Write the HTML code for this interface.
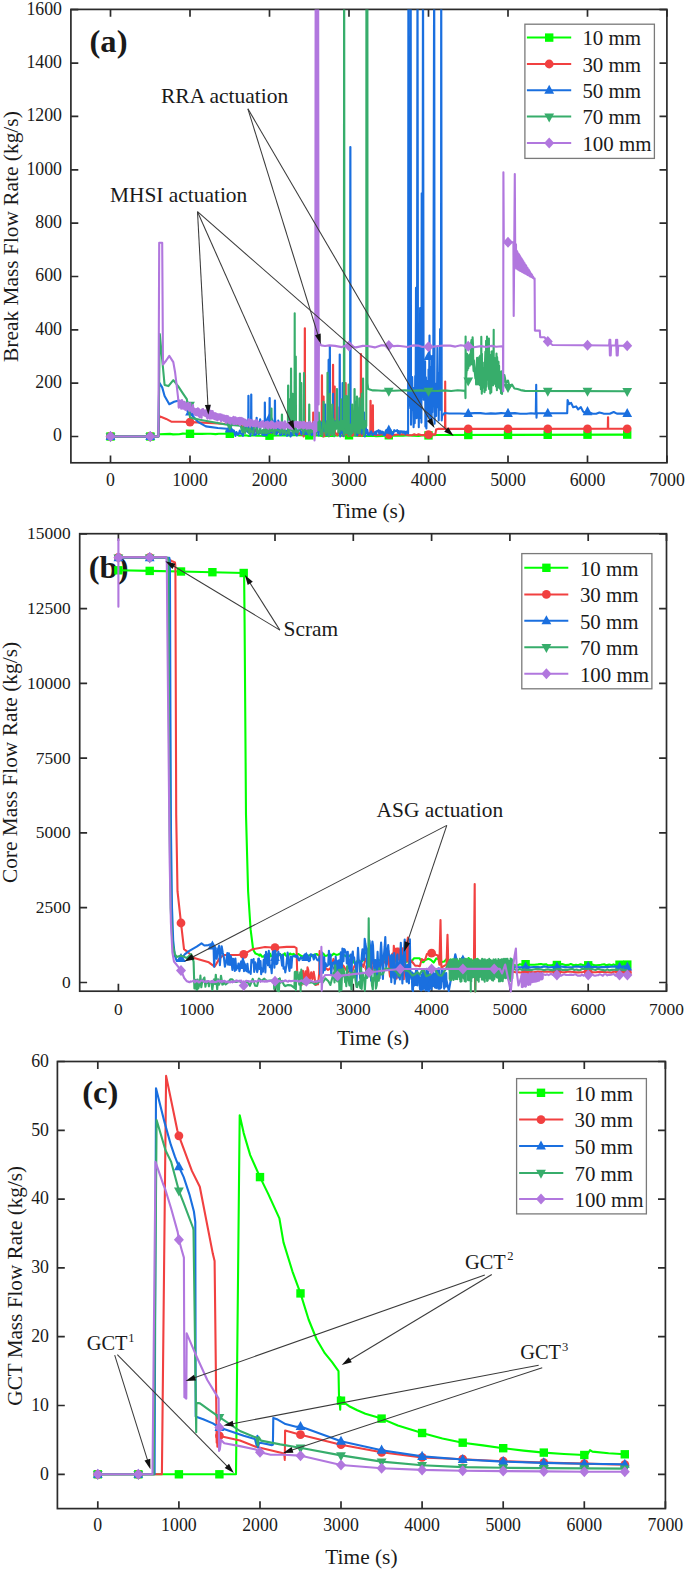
<!DOCTYPE html>
<html><head><meta charset="utf-8"><title>Mass flow rate figure</title>
<style>
html,body{margin:0;padding:0;background:#fff;}
svg{display:block;}
text{font-family:'Liberation Serif','Times New Roman',serif;fill:#1a1a1a;}
</style></head><body>
<svg width="685" height="1571" viewBox="0 0 685 1571">
<rect width="685" height="1571" fill="#fff"/>

<rect x="70.9" y="9.4" width="596" height="453.4" fill="none" stroke="#2b2b2b" stroke-width="1.7"/>
<path d="M110.5 462.8v-7.4M110.5 9.4v7.4M190 462.8v-7.4M190 9.4v7.4M269.5 462.8v-7.4M269.5 9.4v7.4M349 462.8v-7.4M349 9.4v7.4M428.5 462.8v-7.4M428.5 9.4v7.4M508 462.8v-7.4M508 9.4v7.4M587.5 462.8v-7.4M587.5 9.4v7.4M667 462.8v-7.4M667 9.4v7.4M70.9 436.5h7.4M666.9 436.5h-7.4M70.9 383.1h7.4M666.9 383.1h-7.4M70.9 329.8h7.4M666.9 329.8h-7.4M70.9 276.5h7.4M666.9 276.5h-7.4M70.9 223.1h7.4M666.9 223.1h-7.4M70.9 169.8h7.4M666.9 169.8h-7.4M70.9 116.4h7.4M666.9 116.4h-7.4M70.9 63.1h7.4M666.9 63.1h-7.4M70.9 9.7h7.4M666.9 9.7h-7.4" stroke="#2b2b2b" stroke-width="1.7" fill="none"/>
<text x="110.5" y="485.7" font-size="17.8" text-anchor="middle">0</text>
<text x="190" y="485.7" font-size="17.8" text-anchor="middle">1000</text>
<text x="269.5" y="485.7" font-size="17.8" text-anchor="middle">2000</text>
<text x="349" y="485.7" font-size="17.8" text-anchor="middle">3000</text>
<text x="428.5" y="485.7" font-size="17.8" text-anchor="middle">4000</text>
<text x="508" y="485.7" font-size="17.8" text-anchor="middle">5000</text>
<text x="587.5" y="485.7" font-size="17.8" text-anchor="middle">6000</text>
<text x="667" y="485.7" font-size="17.8" text-anchor="middle">7000</text>
<text x="62" y="441.4" font-size="17.8" text-anchor="end">0</text>
<text x="62" y="388" font-size="17.8" text-anchor="end">200</text>
<text x="62" y="334.7" font-size="17.8" text-anchor="end">400</text>
<text x="62" y="281.4" font-size="17.8" text-anchor="end">600</text>
<text x="62" y="228" font-size="17.8" text-anchor="end">800</text>
<text x="62" y="174.7" font-size="17.8" text-anchor="end">1000</text>
<text x="62" y="121.3" font-size="17.8" text-anchor="end">1200</text>
<text x="62" y="68" font-size="17.8" text-anchor="end">1400</text>
<text x="62" y="14.6" font-size="17.8" text-anchor="end">1600</text>
<text x="368.9" y="518" font-size="21.4" text-anchor="middle">Time (s)</text>
<text x="17.6" y="236.6" font-size="21.4" text-anchor="middle" transform="rotate(-90 17.6 236.6)">Break Mass Flow Rate (kg/s)</text>
<text x="89.5" y="51.5" font-size="32.6" text-anchor="start" font-weight="bold">(a)</text>
<rect x="79.7" y="533.7" width="586.8" height="457.5" fill="none" stroke="#2b2b2b" stroke-width="1.7"/>
<path d="M118.4 991.2v-7.4M118.4 533.7v7.4M196.7 991.2v-7.4M196.7 533.7v7.4M275 991.2v-7.4M275 533.7v7.4M353.3 991.2v-7.4M353.3 533.7v7.4M431.6 991.2v-7.4M431.6 533.7v7.4M509.9 991.2v-7.4M509.9 533.7v7.4M588.2 991.2v-7.4M588.2 533.7v7.4M666.5 991.2v-7.4M666.5 533.7v7.4M79.7 982.5h7.4M666.5 982.5h-7.4M79.7 907.7h7.4M666.5 907.7h-7.4M79.7 832.9h7.4M666.5 832.9h-7.4M79.7 758.2h7.4M666.5 758.2h-7.4M79.7 683.4h7.4M666.5 683.4h-7.4M79.7 608.6h7.4M666.5 608.6h-7.4M79.7 533.8h7.4M666.5 533.8h-7.4" stroke="#2b2b2b" stroke-width="1.7" fill="none"/>
<text x="118.4" y="1014.8" font-size="17.4" text-anchor="middle">0</text>
<text x="196.7" y="1014.8" font-size="17.4" text-anchor="middle">1000</text>
<text x="275" y="1014.8" font-size="17.4" text-anchor="middle">2000</text>
<text x="353.3" y="1014.8" font-size="17.4" text-anchor="middle">3000</text>
<text x="431.6" y="1014.8" font-size="17.4" text-anchor="middle">4000</text>
<text x="509.9" y="1014.8" font-size="17.4" text-anchor="middle">5000</text>
<text x="588.2" y="1014.8" font-size="17.4" text-anchor="middle">6000</text>
<text x="666.5" y="1014.8" font-size="17.4" text-anchor="middle">7000</text>
<text x="70.6" y="987.8" font-size="17.4" text-anchor="end">0</text>
<text x="70.6" y="913" font-size="17.4" text-anchor="end">2500</text>
<text x="70.6" y="838.2" font-size="17.4" text-anchor="end">5000</text>
<text x="70.6" y="763.5" font-size="17.4" text-anchor="end">7500</text>
<text x="70.6" y="688.7" font-size="17.4" text-anchor="end">10000</text>
<text x="70.6" y="613.9" font-size="17.4" text-anchor="end">12500</text>
<text x="70.6" y="539.1" font-size="17.4" text-anchor="end">15000</text>
<text x="373.1" y="1044.9" font-size="21.4" text-anchor="middle">Time (s)</text>
<text x="17.4" y="762.5" font-size="21.4" text-anchor="middle" transform="rotate(-90 17.4 762.5)">Core Mass Flow Rate (kg/s)</text>
<text x="88.7" y="577.9" font-size="32.6" text-anchor="start" font-weight="bold">(b)</text>
<rect x="57.4" y="1061.5" width="608" height="447.1" fill="none" stroke="#2b2b2b" stroke-width="1.7"/>
<path d="M97.8 1508.6v-7.4M97.8 1061.5v7.4M178.9 1508.6v-7.4M178.9 1061.5v7.4M260 1508.6v-7.4M260 1061.5v7.4M341 1508.6v-7.4M341 1061.5v7.4M422.1 1508.6v-7.4M422.1 1061.5v7.4M503.2 1508.6v-7.4M503.2 1061.5v7.4M584.3 1508.6v-7.4M584.3 1061.5v7.4M665.4 1508.6v-7.4M665.4 1061.5v7.4M57.4 1474.3h7.4M665.4 1474.3h-7.4M57.4 1405.5h7.4M665.4 1405.5h-7.4M57.4 1336.7h7.4M665.4 1336.7h-7.4M57.4 1267.9h7.4M665.4 1267.9h-7.4M57.4 1199.1h7.4M665.4 1199.1h-7.4M57.4 1130.3h7.4M665.4 1130.3h-7.4M57.4 1061.5h7.4M665.4 1061.5h-7.4" stroke="#2b2b2b" stroke-width="1.7" fill="none"/>
<text x="97.8" y="1531.3" font-size="17.8" text-anchor="middle">0</text>
<text x="178.9" y="1531.3" font-size="17.8" text-anchor="middle">1000</text>
<text x="260" y="1531.3" font-size="17.8" text-anchor="middle">2000</text>
<text x="341" y="1531.3" font-size="17.8" text-anchor="middle">3000</text>
<text x="422.1" y="1531.3" font-size="17.8" text-anchor="middle">4000</text>
<text x="503.2" y="1531.3" font-size="17.8" text-anchor="middle">5000</text>
<text x="584.3" y="1531.3" font-size="17.8" text-anchor="middle">6000</text>
<text x="665.4" y="1531.3" font-size="17.8" text-anchor="middle">7000</text>
<text x="49" y="1479.6" font-size="17.8" text-anchor="end">0</text>
<text x="49" y="1410.8" font-size="17.8" text-anchor="end">10</text>
<text x="49" y="1342" font-size="17.8" text-anchor="end">20</text>
<text x="49" y="1273.2" font-size="17.8" text-anchor="end">30</text>
<text x="49" y="1204.4" font-size="17.8" text-anchor="end">40</text>
<text x="49" y="1135.6" font-size="17.8" text-anchor="end">50</text>
<text x="49" y="1066.8" font-size="17.8" text-anchor="end">60</text>
<text x="361.4" y="1564.3" font-size="21.4" text-anchor="middle">Time (s)</text>
<text x="21.8" y="1285.8" font-size="21.2" text-anchor="middle" transform="rotate(-90 21.8 1285.8)">GCT Mass Flow Rate (kg/s)</text>
<text x="82.2" y="1102.9" font-size="32.6" text-anchor="start" font-weight="bold">(c)</text>
<defs><clipPath id="clipA"><rect x="70.9" y="9.4" width="596" height="453.4"/></clipPath></defs>
<g clip-path="url(#clipA)">
<polyline points="110.5,436.5 150.2,436.5 158.4,436.5 158.7,433.8 159.8,434.2 164.7,434.1 169.9,433.9 173,434.4 179.1,434.2 182.8,433.6 187.5,433.7 192.2,433.9 195.6,433.9 201.8,433.9 207.5,433.8 210.6,433.8 215.7,434.1 218.7,433.7 223.3,433.8 229.5,433.8 235.9,434 239.3,435.8 245.7,435.3 249,436.1 252.6,435.2 257.2,435.6 261.2,435.7 265.5,435.9 270.6,435.6 276.9,435.5 283.3,435.3 290,435.5 293.5,435.3 300,435.3 305,435.5 308.7,435.3 313.8,435.9 316.9,435.3 323.5,436.1 329.4,435.8 332.9,435.9 338.6,435.3 341.7,435.6 344.7,435.5 348.8,435.3 355.4,435.7 362.1,435.9 365.3,435.6 368.3,436 372.7,435.6 376.1,436.2 382.3,435.9 388.8,435.3 393.1,435.7 398,435.5 403.1,435.6 408.3,435.2 413.1,435.8 418.7,436 422.8,435.2 427.6,435.6 428.5,435.4 436.4,435 627.2,434.6" fill="none" stroke="#00FF00" stroke-width="2.1" stroke-linejoin="round"/>
<rect x="106.3" y="432.3" width="8.4" height="8.4" fill="#00FF00"/>
<rect x="146.1" y="432.3" width="8.4" height="8.4" fill="#00FF00"/>
<rect x="185.8" y="429.6" width="8.4" height="8.4" fill="#00FF00"/>
<rect x="225.6" y="429.6" width="8.4" height="8.4" fill="#00FF00"/>
<rect x="265.3" y="431.5" width="8.4" height="8.4" fill="#00FF00"/>
<rect x="305.1" y="431.2" width="8.4" height="8.4" fill="#00FF00"/>
<rect x="344.8" y="431.1" width="8.4" height="8.4" fill="#00FF00"/>
<rect x="384.6" y="431.1" width="8.4" height="8.4" fill="#00FF00"/>
<rect x="424.3" y="431.2" width="8.4" height="8.4" fill="#00FF00"/>
<rect x="464.1" y="430.8" width="8.4" height="8.4" fill="#00FF00"/>
<rect x="503.8" y="430.7" width="8.4" height="8.4" fill="#00FF00"/>
<rect x="543.5" y="430.6" width="8.4" height="8.4" fill="#00FF00"/>
<rect x="583.3" y="430.5" width="8.4" height="8.4" fill="#00FF00"/>
<rect x="623" y="430.4" width="8.4" height="8.4" fill="#00FF00"/>
<polyline points="110.5,436.5 150.2,436.5 158.4,436.5 159.2,416.2 161.4,417 166.2,418.9 171.3,421.6 182.1,421.8 189.2,422.1 197.9,422.4 213.9,423.2 229.8,424.2 241.7,425.3 242.5,430.3 244.6,432.5 245.7,426.4 246.8,429.5 248,429.6 250,429.5 251.7,429.5 254.1,433 255.4,429.9 258.1,432.1 260,430.7 261.7,431.8 263.4,431.9 265.6,432.4 267.4,430.5 268.6,431.4 270.9,432.7 272.5,430.8 274.1,433.3 276,431.5 277.3,433 279,431.3 280.9,431.3 282.4,433.3 284.6,431.6 286.5,433.9 287.9,433 289.4,432.3 291.9,434.4 293.6,432.6 295.8,432.8 297.5,434.9 299.2,433.1 300.8,434.5 301.3,433.7 302.6,430.4 303.7,436.5 304.6,432.8 304.8,328.2 304.9,328.2 305.1,432.8 305.6,430.6 307.6,433.6 309.5,430.3 310.7,431.5 312.5,432.1 313,433.4 313.2,412.5 313.3,412.5 313.5,433.4 313.9,434.6 315.2,435 316.1,432.6 317.3,431.1 318.2,430.5 319.9,430.3 321.7,431.4 321.9,375.4 322,375.4 322.2,431.4 323.3,436.4 323.3,436.2 323.5,396.5 323.6,396.5 323.8,436.2 325,435.4 326.2,432.1 327.6,433.7 329.6,432.4 330.8,434.8 332.7,433.3 332.8,433.5 333,364.7 333.1,364.7 333.3,433.5 334.4,434.2 334.5,433.8 334.7,386.6 334.7,386.6 334.9,433.8 335.5,432.9 337.3,435.4 339.1,430.4 339.2,430.5 339.4,407.2 339.5,407.2 339.7,430.5 340.8,431 341.7,432.3 343.6,436.2 344.7,434.7 345.4,434 345.6,383.1 345.7,383.1 345.9,434 346.2,433.7 347.6,431.3 348.4,436.1 349.4,435.7 350.4,430 352.2,435.9 353.5,434.4 353.7,411.2 353.8,411.2 354,434.4 354.9,434.2 356.5,432.6 357.7,435.2 359,435.7 360.5,431.7 360.7,433.2 360.9,354.1 361,354.1 361.2,433.2 361.8,436 362.8,434 364.4,431.3 365.7,431.2 367.2,433.6 368.5,433.2 370.2,433.7 370.3,433.6 370.5,400.8 370.6,400.8 370.8,433.6 371.8,433.4 372.6,434.6 372.8,405.3 372.9,405.3 373.1,434.6 376.5,435.1 379.5,434.7 383.7,434.2 386.5,434.2 390.4,434.9 393.5,435 397.5,434.5 401.7,434.3 405.3,434.4 408.6,435.1 412,435.2 414.3,434.3 416.3,435.1 418.5,434.2 420.8,435.1 424.9,435 428.9,434.4 433,434.2 435.3,434.6 436.1,429.6 438,428.9 445,428.9 445.2,381.5 445.2,381.5 445.4,428.9 607.8,428.8 608,417.3 608.1,417.3 608.2,428.8 627.2,428.8" fill="none" stroke="#F14040" stroke-width="2.1" stroke-linejoin="round"/>
<circle cx="110.5" cy="436.5" r="4.4" fill="#F14040"/>
<circle cx="150.2" cy="436.5" r="4.4" fill="#F14040"/>
<circle cx="190" cy="422.1" r="4.4" fill="#F14040"/>
<circle cx="388.8" cy="434.6" r="4.4" fill="#F14040"/>
<circle cx="428.5" cy="434.7" r="4.4" fill="#F14040"/>
<circle cx="468.2" cy="428.9" r="4.4" fill="#F14040"/>
<circle cx="508" cy="428.8" r="4.4" fill="#F14040"/>
<circle cx="547.8" cy="428.8" r="4.4" fill="#F14040"/>
<circle cx="587.5" cy="428.8" r="4.4" fill="#F14040"/>
<circle cx="627.2" cy="428.8" r="4.4" fill="#F14040"/>
<polyline points="110.5,436.5 150.2,436.5 158.4,436.5 159.2,382.6 162.2,387.4 164.6,396 169.3,404.2 174.1,401.8 179,400.5 183.6,405.8 187.6,411.2 190,413 197.9,421.8 205.9,426.4 217.8,428 229.8,429 231.3,430.1 232,430.4 233.2,430.8 233.9,430.5 235.4,436 236.4,432 237.8,434.6 238.6,434.5 239.8,430.5 240.9,433.6 241.9,433.7 242.9,435.8 244,428.7 245.1,430.5 245.4,430.8 245.6,420.5 245.7,420.5 245.9,430.8 247.2,431.1 248.2,432.4 248.4,395.7 248.5,395.7 248.7,432.4 249.6,429.3 250.4,435.7 251,431.6 251.2,394.6 251.3,394.6 251.5,431.6 251.7,429.2 252.8,433 253.4,434.1 253.6,421.8 253.6,421.8 253.8,434.1 254.2,435 255.1,434.9 256.2,434 256.4,432.7 256.6,417.8 256.7,417.8 256.9,432.7 257.1,431 258.6,434.1 259.9,433 260.1,419.2 260.2,419.2 260.4,433 261.4,431.8 262.3,434.8 263,432.7 264,435.1 264.7,434 264.8,402.6 264.9,402.6 265.1,434 266.3,435.4 267.9,432.7 268.5,432.7 268.7,423.2 268.7,423.2 268.9,432.7 269.1,432.8 269.4,431.6 269.6,398.1 269.7,398.1 269.9,431.6 270.5,429.9 271.6,432.6 272.9,429.6 274,430.6 274.7,432 274.9,400.5 275,400.5 275.2,432 275.5,432.8 276.4,434.6 277.7,431.1 278,430.6 278.2,420.5 278.3,420.5 278.5,430.6 279.2,429.7 280.1,435 281,435 282,429.8 282.2,421.8 282.3,421.8 282.5,429.8 283.7,434.5 285.2,434 286.2,430.7 287,435.8 288.4,434.2 289.1,431.9 289.3,420.5 289.4,420.5 289.6,431.9 290.6,436.4 291.6,433 292.7,434.8 293.9,428.9 294.9,432.1 295.7,434.3 296.9,435.6 298.4,429.2 299.1,429 300.1,430.3 301.5,434.1 302.8,431.3 304.1,434.4 305.5,428.8 306.8,432.2 307.5,432.5 308.5,430.8 309.8,432 310.6,431.3 311.8,435.1 313.3,431.3 314.1,429 314.9,433.8 316.2,431.7 317.2,426.1 318,431.5 318.6,435.4 319.5,424.4 320.3,424.7 321,432.2 321.7,422.5 322.2,428.4 322.9,424.2 323.6,431.2 324.3,427.8 324.9,430.4 325.1,404.5 325.2,404.5 325.4,430.4 326.3,434.7 326.9,434.9 327.5,424 328.4,432.2 328.6,359.9 328.7,359.9 328.9,432.2 329,429.8 329.6,424.4 329.8,346.3 329.9,346.3 330.1,424.4 330.9,427 331.5,430.1 332.1,428.1 332.9,431 333.1,393.8 333.1,393.8 333.3,431 333.6,424 334.1,423.6 335.1,421.3 335.8,427.7 336.7,426.4 337.8,425.5 338.5,422.7 339.2,426.9 339.5,432.4 339.7,354.6 339.8,354.6 340,432.4 340.2,436.5 341.1,425.9 341.9,428.1 342.4,433 342.6,383.1 342.7,383.1 342.9,433 343.5,435.9 344.3,426.2 345.1,427.4 346.2,422.2 346.7,423.8 347.2,433.2 347.4,396.5 347.4,396.5 347.6,433.2 348.3,432.8 348.8,427.9 349.9,431.3 350.1,428.7 350.3,147.1 350.4,147.1 350.6,428.7 350.9,425.4 351.5,422.8 352.3,421.7 353.3,424.7 354,423.6 355,422.7 355.1,423.4 355.3,401.8 355.4,401.8 355.6,423.4 355.8,424.4 356.6,434.8 357.1,435.3 357.7,433.9 358.5,425.3 359.1,429.8 359.3,407.2 359.4,407.2 359.6,429.8 360.2,431.6 361,424.4 361.7,433.6 362.8,425 363.5,430.6 363.9,427.7 364.1,412.5 364.1,412.5 364.3,427.7 364.9,436.5 365.5,424 366.1,429.1 366.7,433.2 367.3,430 368.1,435 368.7,434.3 369.7,434.8 370.3,432.8 371.2,431.4 371.8,433 372.6,435 374,434 374.6,432.6 375.3,431.8 376.1,434.5 376.7,431.3 377.5,431 378.5,430.2 379.3,433.8 380,430.8 381.1,433.3 381.7,431.5 383,432 383.6,435 384.3,434.3 384.9,434.9 385.9,430.4 386.7,430 387.6,430.9 388.9,430.2 389.5,433.5 390.5,430.1 391.1,433.6 392.4,434.6 393.2,433.4 394.3,430.2 395,431.2 396.2,430.7 397.2,430.2 398,433 398.7,431 399.7,433.7 400.4,431.3 401.4,431.4 402.3,432.6 403,431.4 403.6,432.7 404.7,431.6 405.4,433.9 406.6,431.7 408.1,433.3 408.4,-70.3 408.9,405.4 409.3,393 409.7,398 410.1,391.2 410.4,408.2 410.7,-70.3 411,424.7 411.5,395.9 411.9,397.6 412.2,377.1 412.7,409.7 413.2,387.9 413.6,427.2 414.1,395.4 414.7,423.2 415.2,376 415.6,402.2 416,287.9 416.6,418.3 417,391.7 417.5,-70.3 418,402.7 418.4,377 418.8,427.3 419.2,393.5 419.7,405.3 420.1,308.1 420.5,418.1 421,379.2 421.4,422.6 421.7,193.4 422.3,396.9 422.7,218.3 423,-70.3 423.6,399.7 424.1,367 424.5,396.6 425.1,361.4 425.4,426.6 425.9,377.3 426.4,428.5 426.9,380.8 427.3,405.1 427.8,392.8 428.2,416.1 428.5,369.6 429,397.3 429.5,335.6 429.9,419.4 430.3,378.1 430.7,401.4 431.1,366.8 431.6,419.9 432,356 432.3,412.1 432.8,394.9 433.2,404.2 433.6,241.2 434.2,-70.3 434.6,423.7 434.9,386 435.2,411.6 435.5,389 436.1,415.9 436.4,383.6 436.9,407.3 437.4,347.5 437.8,404.5 438.3,372.7 438.7,420.5 439.1,378.4 439.6,399.6 440.1,329 440.6,409.7 441,391.9 441.2,-70.3 441.7,420.5 442.2,415.2 443.6,414.4 444.4,413 449.3,413.5 453.6,413.5 459.5,413.5 466,413.7 470.1,413.4 474.5,413.1 480.5,413.1 485.7,413.8 490.8,413.4 495.5,413.6 501.1,413.1 504.3,413.3 508.6,413.4 514.9,413.1 520.2,413.7 526.6,413.7 530.9,413.2 535,413.6 535.8,413.3 536.2,384.8 536.5,417.8 536.8,413.3 567.2,413.3 567.6,400 569,404.2 571.1,402.9 573.2,407.2 576.1,406.4 578.1,409.3 580.9,407.2 583,411.4 585,412.8 587.5,412 592.3,413.6 596.2,413.8 599.4,412.5 603.4,413.6 609.8,413.8 613.7,412 616.9,413.6 627.2,413.6" fill="none" stroke="#1A6FDF" stroke-width="2.1" stroke-linejoin="round"/>
<polygon points="110.5,430.9 105.6,440 115.4,440" fill="#1A6FDF"/>
<polygon points="150.2,430.9 145.3,440 155.2,440" fill="#1A6FDF"/>
<polygon points="190,406.4 185.1,415.5 194.9,415.5" fill="#1A6FDF"/>
<polygon points="229.8,423.4 224.8,432.5 234.7,432.5" fill="#1A6FDF"/>
<polygon points="269.5,412.6 264.6,421.7 274.4,421.7" fill="#1A6FDF"/>
<polygon points="309.2,425.9 304.4,435 314.1,435" fill="#1A6FDF"/>
<polygon points="349,422.8 344.1,431.9 353.9,431.9" fill="#1A6FDF"/>
<polygon points="388.8,424.6 383.9,433.7 393.6,433.7" fill="#1A6FDF"/>
<polygon points="428.5,350.9 423.6,360 433.4,360" fill="#1A6FDF"/>
<polygon points="468.2,407.9 463.4,417 473.1,417" fill="#1A6FDF"/>
<polygon points="508,407.8 503.1,416.9 512.9,416.9" fill="#1A6FDF"/>
<polygon points="547.8,407.7 542.9,416.8 552.6,416.8" fill="#1A6FDF"/>
<polygon points="587.5,406.1 582.6,415.2 592.4,415.2" fill="#1A6FDF"/>
<polygon points="627.2,408 622.4,417.1 632.1,417.1" fill="#1A6FDF"/>
<polyline points="110.5,436.5 150.2,436.5 158.4,436.5 159.8,334.1 164.6,385 168.4,386.1 173.3,380.2 178.1,386.1 183.2,393.8 186.8,399.2 189.2,411.2 190,417.3 193.2,418.4 201.1,420 210.7,421.8 225.8,424.5 240.1,425.8 240.9,426.2 241.8,430.4 242.7,432.4 243.6,426.1 244.4,431.7 245.2,432.8 246.4,427.9 247.8,428.8 249.2,433.5 250.1,426.4 250.8,431.6 251.9,431.6 253.1,433.3 253.9,426.6 254.7,427 255.6,426.4 256.8,429 257.6,433.3 259,432.5 259.8,427.8 261.3,433.4 262.8,430 263.8,433.1 264.8,426.8 265.7,433 266.5,433 267.5,427.4 268.2,432.6 269.7,426.9 271.2,431.3 271.4,408.5 271.5,408.5 271.7,431.3 272.3,427.3 273.4,429.1 274.3,434 275.3,428.8 276.7,430.1 277.7,430.4 278.8,430.4 280.2,432.8 281.4,427.7 281.7,429.9 281.9,414.6 282,414.6 282.2,429.9 282.8,433.1 284.4,428.5 285.2,432.5 286,434 287.6,431.6 287.9,432.5 288.1,385.6 288.2,385.6 288.4,432.5 289,433.7 289.1,430.8 289.3,399.2 289.4,399.2 289.6,430.8 289.7,428.4 290.8,427.6 291,368.5 291.1,368.5 291.3,427.6 292.3,431.4 292.5,393.8 292.6,393.8 292.8,431.4 293.7,434 294.5,431.8 294.7,313.3 294.7,313.3 294.9,431.8 295.5,430.6 295.7,356.5 295.8,356.5 296,430.6 296.6,431.2 297.6,432.5 298.6,430.6 299.7,428.6 299.9,373.5 300,373.5 300.2,428.6 301.1,428.9 301.3,383.1 301.3,383.1 301.5,428.9 301.6,429.1 302.5,428.1 303.4,434 303.8,431.7 304,373 304,373 304.2,431.7 304.5,429.9 305.5,430.5 306.4,428.3 307.5,431.7 308.6,429 309,430 309.2,404.5 309.3,404.5 309.5,430 310.1,431.4 311.2,430.9 311.9,432.2 313.4,429.9 314.1,429.4 315.1,428.5 316.1,433.7 317.2,421.2 317.7,421.5 318.4,430.2 318.6,428 318.8,412.5 318.8,412.5 319,428 319.4,430 320,421.3 320.6,434 321,430.1 321.6,434.1 322,430.9 322.4,436 323,420.5 323.3,423.6 323.5,401.8 323.6,401.8 323.8,423.6 324.3,422 325,428.8 325.7,434.4 326.4,429.9 326.9,421.1 327.3,431.9 327.5,372.7 327.6,372.7 327.8,431.9 328.1,426.1 328.5,436 329,436.4 329.7,433.3 329.7,431.4 329.9,393.8 330,393.8 330.2,431.4 330.7,429 331.3,425.1 331.8,434.8 332.1,428.4 332.3,404.5 332.3,404.5 332.5,428.4 332.6,424.5 333,428.8 333.6,419.3 334,436.3 334.6,429.2 335.3,422.2 335.8,429.2 336.4,421.2 336.7,428.1 336.9,389 337,389 337.2,428.1 337.5,420.3 338.1,426.5 338.4,432.5 339,421.6 339.6,431.6 340.3,425 340.8,429 341,399.2 341.1,399.2 341.3,429 341.4,420.9 341.8,427.3 342.4,430.3 343,420.7 343.8,423.7 343.9,434.6 344.1,-70.3 344.2,-70.3 344.4,434.6 344.7,431.1 345.1,421.4 345.6,422.2 346,432.9 346.2,396 346.3,396 346.5,432.9 347.1,429.6 347.5,433.3 347.8,427.9 348.3,425.4 348.5,384.5 348.6,384.5 348.8,425.4 349,435.5 349.6,429.8 350,432.2 350.4,424.5 350.9,434.6 351.3,428.8 351.9,432.2 351.9,432.5 352.1,404.5 352.2,404.5 352.4,432.5 352.6,432.8 353.2,425.9 353.6,423.5 354.1,427.1 354.3,426 354.5,389 354.6,389 354.8,426 355.2,435.5 355.9,421.6 356.5,426.5 356.7,421.1 356.9,396.5 357,396.5 357.2,421.1 357.6,432.7 358.3,419.4 358.8,419.2 359.1,433.3 359.3,398.4 359.4,398.4 359.6,433.3 360,430.6 360.6,426.4 361,427.3 361.5,428.2 361.7,393.8 361.8,393.8 362,428.2 362.3,421.5 362.8,428 362.8,425.6 363,378.6 363.1,378.6 363.3,425.6 363.4,422.2 363.8,434.9 364.5,426.9 365,421 365.7,427.1 366.3,425.8 366.4,-70.3 367.4,-70.3 367.5,383.1 368.2,389 372.9,390.4 374.4,390.3 382.1,390.8 385.9,390.4 393.5,390.8 399.7,390.5 404.8,390.4 411.5,390.7 415.9,390.6 421.3,390.4 426,390.7 430.8,390.7 437.6,391 441.7,390.6 446.5,390.6 451.2,391 457.7,390.2 465.2,390.9 465.5,398.1 465.6,336.5 465.9,380.7 466.7,369.8 467.1,353.9 467.4,370.1 467.7,361.2 468.3,368.3 468.8,355.3 469.2,363 469.7,365.8 470.2,354.1 470.5,364.5 471,344 471.5,340 471.8,347.1 472.2,364.4 472.6,337.4 473,345 473.3,366.2 473.6,370.9 473.9,360.3 474.4,371 474.9,373.3 475.4,378.3 475.8,368.6 476.1,384.5 476.4,367 476.7,363.6 477.1,357.9 477.6,364.5 478,384.5 478.4,363.9 478.9,379.9 479.2,357 479.7,366 479.9,385.2 480.2,355.5 480.4,384.6 480.5,358 480.8,385.9 480.9,389.1 481.1,371.4 481.3,336.8 481.5,378.7 481.8,393.7 481.9,353.8 482.1,391.9 482.3,375 482.6,388 482.8,371.5 483.1,368.3 483.3,375.1 483.4,367.9 483.7,374 483.8,370 484,375.7 484.2,362.5 484.4,377.2 484.5,392.3 484.7,382.6 484.9,378.6 485.1,359.3 485.4,351.6 485.6,369.4 485.7,390.2 486,365.1 486.1,340.7 486.3,358.1 486.5,386.6 486.8,384.2 487,336.5 487.1,365.2 487.3,379.6 487.6,370.1 487.7,366.7 487.8,353.2 488.1,341.9 488.2,355.1 488.4,366.7 488.5,376.3 488.7,357.9 488.8,338.5 488.9,338.5 489.1,389 489.3,363.4 489.6,364.7 489.8,389.1 490,364.4 490.3,393.5 490.4,355 490.7,369.6 490.9,361.7 491.1,367.1 491.3,392.2 491.5,351.5 491.6,366.7 491.8,373.3 492,351.2 492.3,367.5 492.4,375.8 492.6,381.5 492.8,360.8 492.9,385.1 493.1,385.3 493.3,381.3 493.5,365 493.7,329.8 493.7,372.4 493.8,356.8 494.1,376.5 494.3,381.4 494.5,383.7 494.6,365.2 494.8,359.8 495,358.3 495.2,377.2 495.4,375 495.5,376.9 495.7,362.8 496,386.5 496.3,360.5 496.5,353.5 496.6,362.6 496.9,390.2 497.1,357.1 497.3,361.3 497.5,378.4 497.7,386.9 497.9,379.5 498.1,379 498.4,386.1 498.5,361.8 498.7,381.9 498.9,385.7 499.1,365.9 499.2,388 499.5,388 499.8,385 499.9,388.7 500.1,378.9 500.3,380.8 500.5,371.9 500.7,375 501,393.3 501.2,390 501.3,371.2 501.6,373.4 501.8,392.5 502,393.9 502.2,389.5 502.4,375.6 502.5,376.5 502.7,382.2 502.8,378 503,388.8 504.4,375.1 506,383.1 508,380.5 509.6,387.2 512,384.5 514.4,388.5 517.5,389 520.7,390.1 525,390.9 627.2,391.2" fill="none" stroke="#37AD6B" stroke-width="2.1" stroke-linejoin="round"/>
<polygon points="110.5,442.3 105.6,433.3 115.4,433.3" fill="#37AD6B"/>
<polygon points="150.2,442.3 145.3,433.3 155.2,433.3" fill="#37AD6B"/>
<polygon points="190,410.8 185.1,401.8 194.9,401.8" fill="#37AD6B"/>
<polygon points="229.8,430.7 224.8,421.7 234.7,421.7" fill="#37AD6B"/>
<polygon points="269.5,433.6 264.6,424.6 274.4,424.6" fill="#37AD6B"/>
<polygon points="309.2,437 304.4,428 314.1,428" fill="#37AD6B"/>
<polygon points="349,437 344.1,428 353.9,428" fill="#37AD6B"/>
<polygon points="388.8,396.7 383.9,387.7 393.6,387.7" fill="#37AD6B"/>
<polygon points="428.5,396.7 423.6,387.7 433.4,387.7" fill="#37AD6B"/>
<polygon points="468.2,386.5 463.4,377.5 473.1,377.5" fill="#37AD6B"/>
<polygon points="508,393 503.1,384 512.9,384" fill="#37AD6B"/>
<polygon points="547.8,396.7 542.9,387.7 552.6,387.7" fill="#37AD6B"/>
<polygon points="587.5,396.8 582.6,387.8 592.4,387.8" fill="#37AD6B"/>
<polygon points="627.2,397 622.4,388 632.1,388" fill="#37AD6B"/>
<polyline points="110.5,436.5 150.2,436.5 158.4,436.5 159.2,242.8 162.2,242.8 163,364.5 166.2,360.5 169.3,355.9 173.3,362.1 175,371.7 176.2,381.3 178,397 178.5,402.3 178.6,406.6 178.8,407.6 179.1,404.8 179.2,405 179.4,405.1 179.6,404.4 179.8,405.5 180,401.1 180.1,401.3 180.3,407.2 180.5,400.7 180.7,405 180.9,400.9 181.1,405.3 181.2,408.6 181.4,404.4 181.6,404.7 181.8,402.4 182,400 182.1,401.1 182.3,401.8 182.4,408.4 182.6,401.5 182.9,401.3 183.2,408.8 183.3,408.4 183.6,405.4 183.8,402.3 184.1,403.5 184.4,404.8 184.5,401.7 184.6,409 184.9,407.4 185.1,409.7 185.3,403.6 185.4,405.5 185.6,408.2 185.9,403.5 186.1,403.4 186.3,410.3 186.5,405.6 186.8,408.6 187,409.5 187.2,406.7 187.4,404.7 187.6,404.2 187.8,403.1 188,408.9 188.1,402.9 188.3,407.6 188.5,404.8 188.7,408.2 188.9,404.3 189.1,410.7 189.4,404.8 189.6,407.9 189.8,407.7 190,410.8 190.2,406.4 190.3,403.3 190.6,407.9 190.8,406.7 191,407.8 191.2,408 191.5,410.9 191.7,410.1 192,412.3 192.2,409.1 192.4,411.4 192.6,412.1 192.8,408.2 192.9,411.9 193,405 193.2,408.6 193.4,407.9 193.6,407.9 193.8,410.1 194,413.8 194.2,411.5 194.4,408.8 194.6,410.1 194.8,410.1 195,414.3 195.2,411.7 195.4,412 195.5,414.9 195.7,414.5 195.9,410.2 196.1,409.1 196.3,415.2 196.6,413.8 196.8,414.8 197,413.9 197.2,408.9 197.5,415.1 197.6,410.2 197.8,408.3 198,408.4 198.3,411.4 198.5,414.7 198.7,416.1 198.9,410.1 199,410.6 199.2,409.4 199.4,411.2 199.7,417.1 199.8,414.1 200,411.4 200.3,410.9 200.5,411.3 200.7,413 200.9,410.3 201.1,414.5 201.3,415.7 201.6,417.8 201.8,413.5 202,412.7 202.2,409.2 202.4,412.6 202.7,410 202.8,410.5 203.1,409.1 203.3,414.6 203.5,412.2 203.6,411.3 203.8,410.7 204,415.5 204.3,412.3 204.5,413.3 204.6,412.5 204.9,415.8 205.1,410.4 205.4,416 205.5,411.9 205.8,412.7 205.9,412.1 206.1,415.3 206.3,414.6 206.6,411.9 206.8,417.8 207,410.2 207.3,413.6 207.5,418.6 207.8,413.3 208,416.2 208.2,417.9 208.4,416.7 208.7,411.8 208.9,412.3 209,414.4 209.1,406.1 209.2,411.4 209.4,412.4 209.6,411.8 209.7,414.2 209.9,418.8 210.1,411.3 210.3,416.6 210.5,416.2 210.8,415.9 210.9,410.7 211.1,417.3 211.3,418.5 211.5,411.8 211.7,416.5 212,412.2 212.2,414.1 212.3,416.1 212.6,411.1 212.7,418.2 212.9,412.8 213,418.5 213.3,418.6 213.6,416.1 213.8,412.9 214,413.7 214.2,417.9 214.3,414.4 214.5,417.4 214.7,418.3 214.9,419.2 215.1,413.3 215.3,418.8 215.5,415.2 215.6,413.4 215.8,413.6 216,414 216.1,419.7 216.3,415.6 216.4,419.5 216.7,413.8 216.9,414.2 217.1,414 217.4,416.4 217.5,420.4 217.7,418.8 217.9,419.8 218.1,416.5 218.4,414.2 218.5,414.3 218.8,419 218.9,415.1 219.2,415.2 219.4,416.7 219.5,419.5 219.7,415.7 219.8,414.4 220,414.1 220.1,415.3 220.4,414.4 220.6,416.3 220.7,415.4 220.9,415 221.1,421.2 221.4,419.4 221.5,419.9 221.6,419.8 221.8,414.6 222.1,415.6 222.3,416.7 222.5,420.3 222.6,418.1 222.8,416.7 223,418 223.2,417.7 223.3,420.5 223.5,420.9 223.8,415.3 223.9,415.4 224.2,415.6 224.4,417.1 224.6,421.3 224.8,418.5 225,418 225.2,417 225.5,421.9 225.7,418.3 226,423 226.1,415.8 226.3,417.8 226.5,420.2 226.7,419 227,419.2 227.2,421 227.5,418.8 227.7,416.7 227.8,416.1 228.1,421.4 228.3,422.7 228.4,417.2 228.6,417 228.8,422.7 229,419.8 229.2,421.3 229.4,419.2 229.6,417.7 229.7,419.2 229.9,423.3 230.1,419.8 230.3,420.9 230.6,417.9 230.7,423.7 231,420.7 231.1,422.5 231.3,422.5 231.5,418.8 231.7,419 232,418 232.2,419.3 232.4,419.2 232.6,419.7 232.8,418.5 232.9,418.8 233.2,423.9 233.4,416.8 233.5,418.1 233.7,423.7 233.9,424.2 234.2,422 234.4,417.6 234.6,421.4 234.7,418.7 234.9,423.9 235,418 235.2,422 235.3,420.4 235.5,417.4 235.7,421 236,422.8 236.1,418.3 236.3,418 236.5,421.9 236.7,423.9 237,421.4 237.1,423.4 237.3,418.2 237.4,420.7 237.6,420.9 237.8,421.9 238,418.7 238.3,420.7 238.4,418.1 238.6,423.7 238.8,418.8 239,424.2 239.3,423.9 239.4,417.7 239.7,419.5 239.8,418.8 240,425.1 240.3,418.3 240.4,421.9 240.6,422.8 240.8,419.5 241,417.9 241.3,419 241.5,424 241.7,421.1 241.9,421.2 242.1,424 242.3,422.8 242.5,418.3 242.7,420.6 242.9,424.5 243,419.4 243.2,418.9 243.4,419 243.5,422.4 243.6,424.7 243.8,423.1 244,424.2 244.2,423.5 244.5,425.3 244.7,419.5 244.9,424.1 245.2,425.2 245.3,425.9 245.5,419.7 245.6,424 245.9,425.6 246,421.2 246.1,422.2 246.3,421.7 246.5,422.9 246.7,421.6 246.9,425.9 247.1,423.5 247.3,424.3 247.5,424.5 247.8,423.8 247.9,425.9 248.1,424.9 248.3,423.4 248.5,419.4 248.8,420.9 249,424.2 249.2,424.8 249.3,425.1 249.5,421.1 249.7,423.4 249.9,422.2 250.1,426.7 250.4,423.4 250.6,419.8 250.8,424.3 250.9,423.7 251.1,424.2 251.2,422.7 251.4,421.4 251.6,424.9 251.9,423.8 252,425.1 252.1,424 252.4,420.2 252.6,426.1 252.8,425.8 252.9,422.6 253.1,423.7 253.2,422.4 253.5,424.4 253.7,425.4 253.9,422.7 254,423.6 254.2,426.1 254.4,421.3 254.6,426.1 254.7,423.6 254.9,424.9 255.1,425.9 255.3,423.1 255.4,423.2 255.6,420.3 255.8,426.6 256.1,425.1 256.2,421.1 256.5,421.8 256.7,420.4 256.9,422.7 257.1,421.3 257.4,425.5 257.5,423.7 257.8,425.1 258,421.5 258.2,423.8 258.5,426.4 258.7,426.9 259,423.2 259.1,426.5 259.4,424.4 259.6,427.2 259.8,424.8 260,422.5 260.2,424.7 260.4,424.5 260.5,426.1 260.8,427.1 260.9,421.7 261.1,424.1 261.3,422.7 261.5,422.3 261.6,421.8 261.8,423.4 261.9,422.5 262.1,423.6 262.3,421.9 262.5,426.7 262.8,421.2 262.9,426.8 263.2,421 263.3,422.5 263.6,426.3 263.8,426.1 264.1,424.5 264.3,427.4 264.5,423.1 264.7,428 264.8,426.4 265.1,422.8 265.3,422.8 265.5,425.5 265.8,422.1 266,422.3 266.3,422.8 266.5,425.3 266.7,426.2 266.8,426.5 267,426.5 267.1,427.9 267.3,424.7 267.5,421.6 267.7,426.7 267.8,421.7 268,423.7 268.3,428.6 268.5,426.2 268.7,425.7 269,426.5 269.2,426.9 269.4,425.3 269.5,426.1 269.7,426 270,422.5 270.2,422.8 270.3,422.3 270.6,424.8 270.7,428.1 271,422.3 271.2,425 271.4,427.9 271.6,421.3 271.8,424.2 272,423.9 272.2,427 272.4,421.9 272.7,425.8 272.9,422.7 273.1,423.1 273.3,427.3 273.4,423.4 273.7,428.5 273.8,426.4 273.9,423.3 274.1,424.4 274.3,426.2 274.5,425.5 274.8,423.8 274.9,427.4 275.2,423.2 275.4,425.1 275.6,426.6 275.8,424.7 276,428.1 276.3,426 276.6,423.1 276.7,427.2 277,421.5 277.2,424.4 277.5,423 277.7,422.6 277.9,422.6 278.1,424.5 278.3,427.4 278.5,425.6 278.7,424 279,427.7 279.2,423.5 279.4,422.1 279.6,425.1 279.9,428.2 280,427.5 280.2,426.4 280.5,422.7 280.7,428.5 281,422.9 281.2,422.4 281.4,424.3 281.7,424.8 281.8,426.7 282.1,426.3 282.3,422.3 282.5,422.9 282.7,425.1 282.8,427.4 283,424.8 283.2,428.3 283.4,428.1 283.6,428.7 283.8,427.8 284.1,426.1 284.3,425.6 284.5,422.6 284.6,425 284.9,421.4 285.1,428.5 285.3,421.7 285.5,426.1 285.7,426.9 285.9,427.5 286.2,426.9 286.4,423.7 286.6,425 286.8,426.9 287,424.2 287.3,426.8 287.4,425.1 287.6,425.2 287.9,427.4 288.1,425.4 288.2,425.5 288.4,426.1 288.7,421.5 288.9,427.3 289.1,421.8 289.3,428.2 289.4,421.7 289.6,425.7 289.7,422.3 290,423.8 290.3,424.6 290.4,427.6 290.6,427.8 290.8,428.5 290.9,422.2 291.2,422.8 291.3,425.5 291.5,423 291.7,425.1 291.9,422.6 292.1,428.9 292.3,422.3 292.4,424.2 292.6,426.9 292.8,428.1 293,424.5 293.1,423.3 293.4,426.8 293.6,423.3 293.9,424.5 294.1,423.4 294.3,426.9 294.5,423.6 294.7,422.2 294.9,424.8 295.1,424.4 295.2,423.9 295.4,424.9 295.6,423.7 295.8,421.6 296,422.1 296.2,425.2 296.3,422.5 296.5,426.9 296.6,427.2 296.8,426.8 297,426.2 297.2,422 297.5,426.1 297.7,423.5 298,426 298.1,423.3 298.3,426.3 298.6,428.4 298.8,422.2 299.1,428.1 299.3,423.1 299.4,424.4 299.6,427.3 299.7,426.8 300,424.6 300.2,421.7 300.4,422.6 300.6,424.1 300.8,427.6 301,426.2 301.1,423.9 301.4,427 301.5,425.2 301.7,424 302,422.3 302.2,425.7 302.4,424 302.6,427.7 302.8,423.6 303,426.7 303.2,428.4 303.5,425.6 303.7,422.5 303.8,421.8 304,421.8 304.2,427.3 304.4,427.9 304.7,423.3 304.9,423 305.1,423.2 305.3,426.5 305.5,423.8 305.7,424.8 305.9,423.1 306.1,425.8 306.3,425.5 306.5,428.2 306.6,428.7 306.8,422.7 307,424.2 307.3,422.9 307.5,427.3 307.7,427.3 307.9,428.4 308.1,423.6 308.2,427.9 308.5,427.6 308.7,424.4 309,425 309.2,427.1 309.3,421.9 309.5,428.4 309.8,425 310,422.1 310.2,427.1 310.4,424.1 310.6,427.3 310.7,425.2 310.9,423 311.1,427.9 311.3,424.6 311.4,425.8 311.7,425.6 311.9,427.3 312.2,424 312.4,428.9 312.6,429 312.8,427.7 312.9,426.7 313.1,426.9 313.3,428 313.5,421.9 314,428.5 314.5,440.5 315.2,425.8 315.7,-70.3 316.3,431.2 317,-70.3 317.5,420.5 318.1,-70.3 318.6,404.5 318.9,343.7 320.4,343.9 321.2,345.4 325,346 329.4,345.4 335,345.9 341.8,347.1 345.5,345.7 352.5,346.5 356,347.4 362.9,345.9 367.9,346 374.8,347.4 381.5,345.3 388.7,345.5 394,346.1 397.8,345.7 404.1,346.5 407.7,347 412.8,345.4 418.2,345.6 422.4,346.9 426.8,346.8 433.7,346.6 438.4,346 443.8,345.5 450.2,345.6 455.4,346.6 460.8,345.3 468.3,346.2 473.9,347.3 481,346.1 486.2,347 491.6,345.9 496.2,346.8 501.8,346.3 503,347.1 503.2,391.2 503.4,172.2 503.8,242.3 508,242.3 513.4,242.3 513.7,315.9 514.8,174 515.2,249.8 516,244.4 516,249.8 516.2,268.6 516.4,250.6 516.7,250.9 517,251.4 517.4,252.1 517.6,252.4 517.9,269.5 518.2,269.7 518.5,253.8 518.9,254.4 519.1,254.7 519.4,270.4 519.6,255.6 519.8,270.6 520.1,256.4 520.3,270.9 520.7,257.2 521.1,271.3 521.4,258.4 521.8,259 522.1,271.9 522.5,260 522.6,260.3 522.8,272.3 523.1,261.1 523.4,261.5 523.6,272.7 523.9,272.9 524.3,273.1 524.6,263.4 524.9,273.4 525.1,273.5 525.3,273.6 525.5,264.9 525.9,265.4 526.1,265.7 526.3,266.1 526.6,274.3 526.9,274.5 527.3,267.6 527.5,268 527.7,275 527.9,275.1 528.3,269.2 528.5,269.5 528.7,269.9 529,270.3 529.2,275.8 529.5,271.1 529.7,276.1 529.9,271.8 530.2,276.4 530.5,276.5 530.8,276.7 531.1,273.6 531.2,276.9 531.6,274.4 531.9,274.9 532.2,275.4 532.6,277.7 532.7,277.8 533.1,276.7 533.2,277 533.6,278.2 533.8,278.4 534.2,278.5 534.6,278.6 534.9,330.6 539.8,330.6 540.2,337.3 544.6,337.3 547.8,341.5 552.5,345 609.1,345.5 609.5,339.9 609.9,355.4 610.3,339.9 610.7,355.4 611.1,345.5 615.7,345.5 616.1,339.9 616.7,355.4 617.2,339.9 617.7,355.4 618.2,345.5 627.2,345.8" fill="none" stroke="#B177DE" stroke-width="2.1" stroke-linejoin="round"/>
<polygon points="110.5,431 115.5,436.5 110.5,442 105.5,436.5" fill="#B177DE"/>
<polygon points="150.2,431 155.2,436.5 150.2,442 145.2,436.5" fill="#B177DE"/>
<polygon points="349,340.6 354,346.1 349,351.6 344,346.1" fill="#B177DE"/>
<polygon points="388.8,340 393.8,345.5 388.8,351 383.8,345.5" fill="#B177DE"/>
<polygon points="428.5,341.2 433.5,346.7 428.5,352.2 423.5,346.7" fill="#B177DE"/>
<polygon points="468.2,340.7 473.2,346.2 468.2,351.7 463.2,346.2" fill="#B177DE"/>
<polygon points="508,236.8 513,242.3 508,247.8 503,242.3" fill="#B177DE"/>
<polygon points="547.8,336 552.8,341.5 547.8,347 542.8,341.5" fill="#B177DE"/>
<polygon points="587.5,339.8 592.5,345.3 587.5,350.8 582.5,345.3" fill="#B177DE"/>
<polygon points="627.2,340.3 632.2,345.8 627.2,351.3 622.2,345.8" fill="#B177DE"/>
</g>
<polyline points="118.4,570.3 149.7,570.9 181,571.5 212.4,572.2 244.1,573 244.6,623.5 246,814.8 248.1,891.2 250.6,929.4 253.2,949.8 255.5,953.6 258.6,954.7 259.3,955.6 260.1,954.4 260.9,954.9 261.8,956.6 262.9,956.6 264,956.5 264.7,955.3 266.1,956.3 266.9,954.5 268.4,954.7 269.4,953.3 270.1,953.7 271,956.3 271.8,955.7 273.2,956.1 274.4,954.5 275.3,954.8 276,956.6 276.9,954.3 277.9,955.6 279.1,955.1 280,953.9 281.3,955.9 282.4,954.9 283.9,954.2 284.8,953.3 285.5,955.3 286.9,956.2 287.9,956.6 289.2,954 290.4,953.6 291.3,954.3 292.5,954.7 293.5,953.8 295,955.1 296.2,956.6 297.5,954.5 298.5,954 300.1,955.3 302.3,956.4 304.2,956 305.6,956.3 308,956.1 309.5,955.3 312.1,956.2 313.9,954.8 316.5,954 319,955.6 320.9,955.4 323.4,953.6 324.8,955.9 326.4,955.8 328.3,954.7 329.9,956.5 331.7,955.4 333.8,953.6 336,954.9 338.2,954.5 339.4,953.8 341.8,953.9 344.3,955.3 346,956.2 348.2,956.3 349.5,955.9 350.9,955.5 352.2,956.5 353.3,962.5 355.4,962.9 358.4,959.9 360.1,961.8 362.2,961.2 363.8,958.7 367.1,960.7 369.4,962.6 371,961.3 372.9,958.8 374.7,962.9 377.8,960.4 379.5,960.3 381,960.4 384.2,958.7 387,961.7 389.1,962.2 391.9,960.3 394.8,961.4 396.6,958.9 399.9,958.7 402.8,958.9 405.6,961.9 408,961.2 409.4,962.9 411.4,961.7 414.1,958.2 416.3,958.3 419.6,958.2 421.7,961.9 423.5,962.1 425.3,959.9 428.4,958.8 430.7,959.7 433.7,962.6 436.3,958.4 439.2,959.2 441.5,962.1 444.4,961.4 447.3,958.1 449.5,961 452.6,959.4 454.4,962.4 456.1,958.5 459,962.3 462,958.1 464.6,961.3 467,962.4 468.5,958.1 471.1,960.4 474.3,960.9 477.3,958.9 478.6,965.1 480.5,965.1 483.1,965.1 485.2,965.3 488.4,964.9 490.6,964.6 493.7,964.8 496.9,964.7 499.3,964.7 500.7,964.8 502.5,965.4 505.4,965.2 507.7,964.4 510.2,965 512.5,964.6 515.4,965.3 517.9,965.1 519.8,964.3 522.2,964.6 525,964.1 527.3,964.5 529.6,964.7 532.3,964.8 534.7,964.7 537.9,964.4 541,964 542.9,964.6 546.1,964.2 547.7,965.3 550,965.3 551.8,965.3 554.5,964.3 557.6,965.2 560.3,964.5 562,964.1 565.2,965.1 568.4,964.9 570.8,964 573.7,965.2 576,964.7 578,965.2 580,964.4 581.5,964.6 583.7,965.4 585.7,964.5 588.1,965.4 591.4,964.3 594.6,965.3 596.5,965.4 599.4,965 601,964.8 604.2,964.2 606.1,965.2 609.2,964.6 611.9,965.3 613.4,964.4 615.6,965.3 618.8,964.5 621.7,965.3 624.7,965.3 627.4,964.6" fill="none" stroke="#00FF00" stroke-width="2.1" stroke-linejoin="round"/>
<rect x="114.2" y="566.1" width="8.4" height="8.4" fill="#00FF00"/>
<rect x="145.5" y="566.7" width="8.4" height="8.4" fill="#00FF00"/>
<rect x="176.8" y="567.3" width="8.4" height="8.4" fill="#00FF00"/>
<rect x="208.2" y="568" width="8.4" height="8.4" fill="#00FF00"/>
<rect x="239.5" y="568.8" width="8.4" height="8.4" fill="#00FF00"/>
<rect x="521.4" y="960" width="8.4" height="8.4" fill="#00FF00"/>
<rect x="552.7" y="960.8" width="8.4" height="8.4" fill="#00FF00"/>
<rect x="584" y="961.1" width="8.4" height="8.4" fill="#00FF00"/>
<rect x="615.3" y="960.5" width="8.4" height="8.4" fill="#00FF00"/>
<rect x="623.1" y="960.4" width="8.4" height="8.4" fill="#00FF00"/>
<polyline points="118.4,557.4 165.8,557.4 168.5,559.5 171.6,561 175,562.5 175.4,566.7 176.2,814.8 177.5,891.2 181,923 184,949.2 188.2,952.4 194.2,958 201,960 208.8,962.3 214.6,966.7 219.4,958.6 223.4,955 238,955 243.8,954.3 252.6,949.2 265,947 275.4,947.7 286.7,946.9 294.4,946.9 296.5,948.1 297.3,977 298.1,975 299.4,980.7 300.1,975.5 300.8,983.9 301.5,985.1 302.2,979.8 303,970.9 303.8,976.1 304.5,979.1 305,981.1 305.6,971.4 306.6,982.3 307.5,967.4 308.2,969.7 309.1,976.2 310.2,978.2 311.2,972.3 312.5,979.2 313.7,971.9 314.7,978 315.5,985 316.2,984.7 317.3,981 318,984.4 319.2,973.5 319.6,951 320.3,973.5 321.2,960.3 323.9,968.2 325.7,968.1 328,969.9 330.3,968.5 333.5,958.9 335.9,968.7 339.1,967.9 341.2,972 343.3,965.6 345.7,969.3 348,972 350,970.8 352.1,971.5 353.6,967.9 355.4,964.1 357.8,961.9 360.5,962.4 363.5,966.8 365.5,958.8 367.2,962.3 369.9,971.4 372.8,960 375.4,962.2 378.4,970.2 380.7,965.2 383.7,961.2 386.7,964.2 388.5,951 389.4,971.6 389.9,975.9 390.6,977.2 391.6,956.6 392.5,953.6 393.4,959.8 393.8,945.8 394.8,959.2 395.6,952.1 396.1,948.5 396.7,978.6 397.4,948.9 398,948.4 399,959.6 399.8,960.2 400.7,947.2 401.5,952.8 402,975.3 402.7,948.2 403.3,956.2 403.8,979.2 404.4,951.5 405.3,951.3 406,958.5 406.8,960.8 407.3,941.4 407.9,937.6 408.9,967.4 410.8,960.2 413.5,963.5 415.1,965.7 417.7,965.7 419.8,966.3 421.8,959 423.2,960.2 425.2,959.6 426.9,954.1 431.6,953.2 437.9,955.6 439.4,964.6 440.5,920 441.4,967.5 446.5,964.6 447.5,934.8 448.4,967.5 462.9,966.9 473.9,967.5 474.7,884.1 475.1,991.5 475.8,967.5 478.6,972.4 482.7,972 484.6,972.6 487.8,972.1 490.4,972.5 493.1,972.3 497.1,972.6 500.9,971.6 503.1,971.5 506.7,971.5 509.3,972.2 512.2,971.4 515.6,972.2 518.5,972.3 520.5,972.5 524.5,972.3 528.7,972.3 531.2,972 533.6,972.2 537.9,971.6 541.8,971.9 546,971.5 549.2,971.8 551.2,971.8 554.2,971.7 557.7,972.3 559.7,971.5 561.9,972.1 564.7,972.3 568.4,971.5 570.9,971.8 573.6,972 576.4,972.4 578.7,972.4 582.9,972 585.3,971.5 589.7,972.1 591.9,972.4 594,972.2 596.1,972.3 598.6,971.9 602.7,971.7 605.6,972.1 608.8,972.2 611.6,972.6 614.1,971.5 616.3,972 619.8,971.6 622.2,972.3 624.7,972.2 627.4,972.4" fill="none" stroke="#F14040" stroke-width="2.1" stroke-linejoin="round"/>
<circle cx="118.4" cy="557.4" r="4.4" fill="#F14040"/>
<circle cx="149.7" cy="557.4" r="4.4" fill="#F14040"/>
<circle cx="181" cy="923" r="4.4" fill="#F14040"/>
<circle cx="243.7" cy="954.3" r="4.4" fill="#F14040"/>
<circle cx="275" cy="947.7" r="4.4" fill="#F14040"/>
<circle cx="306.3" cy="979.2" r="4.4" fill="#F14040"/>
<circle cx="337.6" cy="968.3" r="4.4" fill="#F14040"/>
<circle cx="369" cy="968.3" r="4.4" fill="#F14040"/>
<circle cx="400.3" cy="952.6" r="4.4" fill="#F14040"/>
<circle cx="431.6" cy="953.2" r="4.4" fill="#F14040"/>
<circle cx="462.9" cy="966.9" r="4.4" fill="#F14040"/>
<circle cx="494.2" cy="972.4" r="4.4" fill="#F14040"/>
<circle cx="525.6" cy="972.3" r="4.4" fill="#F14040"/>
<circle cx="556.9" cy="972.2" r="4.4" fill="#F14040"/>
<circle cx="588.2" cy="971.9" r="4.4" fill="#F14040"/>
<circle cx="619.5" cy="971.6" r="4.4" fill="#F14040"/>
<circle cx="627.4" cy="972.4" r="4.4" fill="#F14040"/>
<polyline points="118.4,557.7 169.3,557.7 169.9,560.7 170.4,713.3 171,832.9 172,907.7 173.2,940.6 174.8,955.6 176.7,960.9 181,958.6 185,954.1 188.9,951.1 196.7,946.6 201.5,943.4 204.4,945.5 208.4,945.1 211.7,944.1 212.4,946.1 213.6,948 214.1,966.8 215.2,947.4 216.2,954.4 216.7,958.8 218,949 219.2,945.7 219.9,965.1 220.6,955.8 221.7,946.4 222.8,953 223.9,957.3 224.9,966.7 226.1,962.3 227.3,953.1 228.1,964.7 228.9,953.3 230,965 230.6,955.8 231.6,958.8 231.9,964.8 232.4,969.9 233.2,958.7 234,960 234.8,971 235.4,958.6 236.3,969.8 236.8,966.5 237.7,967.9 238.4,963.6 239.4,971.2 239.9,969.3 240.6,963.4 241.2,961.4 242.2,966.4 242.8,958.5 243.4,961 244,971.2 245,970 246,966.6 246.6,971.2 247.4,963.7 248.4,972.5 249.1,971.4 250.2,972.6 250.7,974 251.4,959.7 252.5,962.5 253.6,959.1 254.2,971.9 255.3,962.3 255.8,963.7 256.5,968.6 257.2,972.1 257.6,970.3 258.3,958.7 258.9,958.6 259.5,968.9 260.5,961 261.2,974.2 262,968.7 263,971.7 263.7,959.7 264.2,968 264.8,955.3 265.4,972.4 266,951.7 266.8,955.7 268,965.3 268.8,950.8 269.8,967.1 270.9,965.8 271.7,973.1 272.8,951.8 273.9,951.1 274.4,967.7 275.4,950.8 276.6,964.2 277.4,963.1 278.3,951.5 279,954.4 280.2,954 281.3,959 282.1,965.7 282.9,954.9 283.6,968.6 284.7,967.4 285.3,972.4 286.3,965.6 287.6,952.5 288.9,967 289.5,970.9 290.5,956.6 291.4,967.7 292.2,956.9 293.5,956 294.9,956.6 295.6,955.3 296.6,957.3 297.5,956 298.4,959.7 299.2,960.4 300.7,957.2 301.6,958.6 303.1,957.8 304,955.5 305.2,954.2 306,958 307.4,955.3 308.8,961.3 309.7,960.7 310.6,954.3 311.7,954.6 312.7,955.1 313.8,959.6 315.1,954.5 315.9,957.1 317.1,959.9 318,960.5 318.9,959.7 319.6,956.6 320.2,974.3 320.9,955.9 321.5,966 322.1,952.6 322.9,972.9 323.4,963.7 324.2,957 324.8,970.1 325.7,963.3 326.3,966.1 327.4,966 328.2,964.7 328.9,950.7 330,964.6 330.6,954.5 331.2,974.4 332.3,962.9 333.3,963.4 334.3,961.9 334.8,974.2 335.7,956.9 336.7,972.1 337.6,964.4 338.3,970.6 339,960.2 340,971.6 340.8,952.4 341.9,969.2 342.4,948.6 343.5,961.3 344,949 344.7,949.6 345.6,951.8 346.2,952.9 346.8,963.4 347.8,951.7 348.4,968.6 349.1,960.3 349.8,971.2 350.4,954.6 351.5,973.5 352.3,953.7 352.8,951.5 353.3,958.1 354.1,957.3 354.8,963 354.9,963.8 355.7,962.8 356.5,982.8 357.4,960.7 358,947.8 358.9,962.2 359.5,961.5 360,977.8 360.8,979.6 361.5,959.8 362,953.8 362.5,949.2 363.5,959.7 364,960.1 364.7,938.9 365.3,943.3 366.4,949.3 367.3,974.7 368.4,960.6 369.5,940.6 370.1,946.6 371.1,980.8 371.8,948.1 372.4,941.5 373,945.3 373.6,960.1 374.6,974 375.3,960 375.9,982.2 376.5,976.3 377.6,951.7 378.6,975.9 379.6,978.5 380.4,953.8 381.1,942.6 381.9,956.5 382.9,979 384,954.1 384.7,946.2 385.3,937 386.2,966.9 387.1,963 387.7,948.7 388.2,945.1 388.8,953.7 389.9,956.2 390.8,969.1 391.3,982.3 391.8,954.8 392.6,959.6 393.6,977.7 394.2,953 394.7,983.8 395.4,978.9 396.1,973.3 396.9,956 397.5,954.4 398.3,977.5 399.4,972.4 399.9,979.4 400.8,942.7 401.7,964.9 402.4,983.4 403.3,957.3 403.9,953.4 404.7,939.6 405.6,972.1 406.7,981.8 407.5,964.7 408.1,981.1 409,983.3 409.9,939.4 410.4,974.5 411.6,979.3 411.9,972.3 412.1,983.9 412.3,989.9 412.7,973 413,990.9 413.3,973.9 413.6,973.9 413.9,985.8 414,985.7 414.2,983.3 414.5,975 414.9,974.6 415.1,978.3 415.4,972.9 415.7,984.9 416,968.8 416.2,970.8 416.3,985 416.6,973.9 416.9,973.8 417.2,970.8 417.4,985.5 417.8,976.5 418.1,975.7 418.5,980.2 418.8,975 419.2,981 419.5,977.9 419.7,986.1 420,989.2 420.4,987.7 420.6,988.6 420.9,983.1 421.1,990.4 421.3,975.1 421.6,975 421.9,989.5 422.2,982.7 422.6,972.1 422.9,989.5 423.3,970 423.6,988.6 423.8,988.4 424,971.5 424.4,976.4 424.7,976.5 424.9,988.7 425.1,973.6 425.3,983.7 425.6,990.5 425.8,984.5 426.1,982.5 426.4,968.8 426.6,971.4 426.9,990.3 427.2,981 427.5,983 427.8,978.6 428.1,971.2 428.2,972.1 428.4,991 428.7,973.5 429,990.9 429.3,979.7 429.6,986.8 429.9,983 430.3,985 430.6,984.5 430.8,974.9 431.1,988.5 431.4,989.2 431.8,975 432.1,976.6 432.3,981.8 432.6,970.5 432.8,970.6 432.9,986.3 433.2,970.3 433.4,982.3 433.8,985.6 434.1,978.8 434.4,973.7 434.7,983 434.9,987.4 435.3,975.8 435.6,987.1 435.9,973.2 436.2,988.1 436.4,970.6 436.6,986.6 436.9,974.8 437.2,987.5 437.4,985.3 437.7,979 437.9,983.5 438.1,968.6 438.4,988.7 438.8,988.7 439,968.4 439.4,974.1 439.6,986.5 439.9,988.6 440.1,982.1 440.3,981.8 440.6,975.1 440.9,976.5 441.2,987.8 441.5,981.7 441.8,970.1 442.1,977.8 442.4,981.3 442.6,974.4 443,973.2 443.3,971.4 443.6,976.2 443.9,983.8 444.2,988.8 444.4,973 444.7,976.5 445,981.3 445.2,976.7 445.5,975.5 445.8,986.8 446.2,973.1 446.4,979.7 448.8,991 455.3,954.3 458.2,966.7 462.6,959.4 466.1,965.7 469.2,962.2 472.3,965.7 478.6,965.3 480.1,967.4 483.8,967.2 488.1,966.4 491.7,967.3 495.4,966.8 499.6,966.9 503.5,966.5 507.1,967 511.8,967.2 515.9,967 520.2,967.3 525,967 527.3,967.1 530.6,967.4 533.8,967 537.9,967 540.8,967.2 545,966.4 548.6,967.2 553,967 555.7,967.3 560,966.5 563.9,966.9 567.6,967.2 572.4,967 576.3,966.5 580.7,966.9 583.7,966.8 586.2,966.5 589.3,966.5 592.1,967 595,966.9 597.6,967.4 601.8,967.1 604.6,967.1 608,966.9 611.9,966.7 615.1,966.4 619.6,967.3 624,966.4 627.4,967.1" fill="none" stroke="#1A6FDF" stroke-width="2.1" stroke-linejoin="round"/>
<polygon points="118.4,552.1 113.5,561.2 123.3,561.2" fill="#1A6FDF"/>
<polygon points="149.7,552.1 144.8,561.2 154.6,561.2" fill="#1A6FDF"/>
<polygon points="181,953 176.1,962.1 185.9,962.1" fill="#1A6FDF"/>
<polygon points="212.4,940.5 207.5,949.6 217.3,949.6" fill="#1A6FDF"/>
<polygon points="243.7,959.8 238.8,968.9 248.6,968.9" fill="#1A6FDF"/>
<polygon points="275,951.9 270.1,961 279.9,961" fill="#1A6FDF"/>
<polygon points="306.3,951.8 301.4,960.9 311.2,960.9" fill="#1A6FDF"/>
<polygon points="337.6,959.4 332.7,968.5 342.5,968.5" fill="#1A6FDF"/>
<polygon points="369,945.1 364.1,954.2 373.9,954.2" fill="#1A6FDF"/>
<polygon points="400.3,958.5 395.4,967.6 405.2,967.6" fill="#1A6FDF"/>
<polygon points="431.6,976.2 426.7,985.3 436.5,985.3" fill="#1A6FDF"/>
<polygon points="462.9,954.4 458,963.5 467.8,963.5" fill="#1A6FDF"/>
<polygon points="494.2,961.4 489.3,970.5 499.1,970.5" fill="#1A6FDF"/>
<polygon points="525.6,961.4 520.7,970.5 530.5,970.5" fill="#1A6FDF"/>
<polygon points="556.9,961.5 552,970.6 561.8,970.6" fill="#1A6FDF"/>
<polygon points="588.2,960.9 583.3,970 593.1,970" fill="#1A6FDF"/>
<polygon points="619.5,961.7 614.6,970.8 624.4,970.8" fill="#1A6FDF"/>
<polygon points="627.4,961.5 622.5,970.6 632.2,970.6" fill="#1A6FDF"/>
<polyline points="118.4,557.7 167.7,557.7 168.4,560.7 168.9,713.3 169.7,832.9 170.7,907.7 172.4,943.6 174.8,954.1 176.7,957.1 181,955.6 186.9,958 191.2,954.1 193.6,961.6 194.4,988.5 195.1,987.8 196.1,979.9 196.6,989.8 197.7,979.6 198.3,988.4 198.9,986.3 199.8,984.5 200.4,975.6 201.3,987.3 202.4,980.3 203.3,979.4 204.4,977.5 205.4,986.8 206.3,981.6 207.2,983 208.2,981.2 208.9,986.3 209.4,982.2 209.9,982.6 210.5,982.2 211.3,981.4 212.3,989.9 213.3,982.6 214.1,979.4 215.1,984 215.8,974.7 216.3,979.9 217.2,989.5 218.1,979.2 219.1,984.7 220.2,981.9 221,975.7 221.5,978.6 222.3,984.6 223.3,984.2 224.1,981.6 225.7,984.4 227.9,982.7 230.3,979.4 232.3,979.4 234.5,982 236.4,982 239.6,980.8 242.5,983.4 244.5,983.7 247.1,981 249.9,985.8 252.7,978.9 255.1,985.7 257.1,986 258.9,978.6 261.4,980.8 264.3,978.7 266.9,981.1 269.5,980.5 272,980.6 273.8,980.7 274,981.2 274.2,989 274.5,981 275,982.6 275.4,980.4 275.8,983.9 276.2,987.4 276.5,987.2 276.9,982.8 277.4,990.7 277.8,990.9 278.1,980.6 278.5,979.1 278.9,991.3 279.3,983.5 279.8,978.3 280.5,982.8 282.1,980.9 283.9,984.9 285.3,986.1 288,985.1 291.2,985.4 294.4,988 294.8,972.1 295.3,971.7 295.8,990.1 296.5,972.3 297.3,971.8 297.8,974.6 298.5,979.1 299.3,984.6 300.2,972.2 300.6,991.1 301.3,969.5 302.4,983.2 305.2,984.2 308.2,981.9 309.7,982.7 312.2,982.2 314.9,984.4 317.8,982.8 320.4,980.8 322.6,982.6 325.5,978.4 328.4,981.3 330.4,985 333.7,972.5 334.5,982.5 335.2,965.2 336,975.3 336.5,979.9 337.3,981.3 338.1,975.3 338.9,969.7 339.4,991.4 339.9,980.1 340.6,969.5 341.4,990.3 342.2,969.6 343,976.1 343.5,968.6 344.3,973 345.1,982.1 345.5,976.6 346.3,986.1 347.1,966.4 347.6,975.1 348.3,978.9 349.4,985.4 350.5,972.5 351.4,989.4 352.6,973 353.3,977.6 354.6,970.3 355.5,980.1 356.5,986.9 357.2,987.1 358.3,982.8 359.3,981.8 360.3,987.9 360.9,967.6 361.7,988.9 362.8,972.6 363.4,977.2 364.3,979 364.8,990.7 366.1,970.7 367.1,977.9 368.2,973.5 368.7,918.2 369.3,973.5 369.7,972.8 370.3,968.8 371.1,971.9 372,985.4 372.3,986.7 372.8,989.5 373.2,978.1 374,980.5 374.9,969.7 375.3,977.2 375.9,988.6 376.7,985.3 377.4,976.1 378.2,975.4 378.8,980.7 379.3,968.4 380.7,974.5 382.7,974.2 385.4,968.4 389.6,969 391.6,969.5 395.2,970.7 399.6,976 401.8,969.7 406.1,970.4 408.7,971.2 412.5,975.6 415.2,974.2 417.4,972.2 419.7,974.4 421.9,970.4 423.8,970.1 426.2,976.2 430.4,974.5 434.6,968.7 438.7,975.3 441.7,975.6 445.9,969 449.2,961.5 449.4,970.6 449.6,960.6 449.7,978.9 449.9,960.1 450.1,979.9 450.3,962.5 450.5,979.8 450.7,959.4 450.9,979.6 451.1,962.2 451.3,980.3 451.5,963.6 451.8,972.7 452,961.4 452.1,978.4 452.3,962 452.5,968.2 452.8,963.4 453,969.6 453.1,960 453.3,968.4 453.4,959.6 453.6,980 453.7,959.5 453.9,979.3 454.1,959 454.3,974 454.4,963 454.7,972.1 454.8,963.5 455,973.5 455.2,962.5 455.3,973.5 455.6,959.6 455.8,979.1 455.9,960 456.1,972 456.2,959.6 456.4,970.3 456.7,961.3 456.8,969.4 457,959.3 457.2,979.3 457.4,962 457.6,976.8 457.8,963.9 458,975.8 458.2,963.3 458.4,970.7 458.6,962.2 458.8,976.7 459.1,963.6 459.3,968.8 459.5,961.2 459.7,974.5 459.8,958.7 460,979.4 460.1,962.6 460.4,981.5 460.5,960.2 460.7,981.7 460.9,960.8 461.1,972.2 461.2,959.3 461.5,981.3 461.6,961.3 461.8,978.1 462,961.8 462.1,973.8 462.4,963.2 462.6,971.6 462.7,959.5 463,976.6 463.2,959.4 463.4,976.5 463.6,959.8 463.8,978.6 464,961.6 464.2,970.8 464.4,959.6 464.7,981.2 464.9,958.8 465.1,978.5 465.3,960.5 465.5,974.6 465.6,961.6 465.8,981.6 466,958.7 466.2,969 466.4,959.6 466.7,969.7 466.8,960.5 467,972.6 467.1,961 467.4,973.4 467.6,961.2 467.7,968.8 467.9,962.3 468.1,980.2 468.3,958.8 468.5,978.2 468.7,961.1 468.9,980.2 469,962.4 469.2,977.9 469.4,963.5 469.6,970.3 469.8,960.9 470,979.1 470.2,961.5 470.4,973.5 470.6,962.3 470.8,991.5 470.8,978.9 471,961.9 471.2,981.7 471.4,959.3 471.5,970.5 471.5,974.2 471.7,962.4 472,977.8 472.2,963.1 472.4,969.9 472.5,963.6 472.7,975.8 473,963.4 473.1,968.7 473.3,963.1 473.5,977.1 473.7,960.6 474,970.6 474.2,960 474.4,971.4 474.6,959.7 474.8,969.3 475,959.3 475.1,971.4 475.3,961.3 475.4,991.5 475.5,974 475.7,959.7 476,973.5 476.2,961.5 476.2,970.5 476.3,972 476.5,961.9 476.7,976.6 476.9,959.7 477.1,975 477.3,963 477.5,979.9 477.7,960.8 477.8,969.2 478,959.4 478.3,968.7 478.4,961.7 478.7,981.8 478.8,960.9 479,969.2 479.2,961.1 479.5,974.8 479.7,960.3 479.9,977 480.1,962.1 480.3,972.6 480.5,963.4 480.7,976.4 480.9,960.9 481.1,968.6 481.3,961.6 481.5,968.2 481.7,961.1 481.9,979.6 482.1,958.7 482.4,974.8 482.5,959.1 482.7,970.6 483,959.2 483.2,979.7 483.3,961.2 483.5,979.3 483.7,960.6 483.9,977 484.1,960.5 484.3,976.2 484.5,962.3 484.7,981.8 484.9,959.4 485.1,972.7 485.3,961.3 485.5,978.2 485.7,961.1 485.9,974 486.1,963.3 486.3,971.5 486.4,963.4 486.6,974.7 486.8,960.7 487.1,981 487.2,959.8 487.4,972.1 487.6,963 487.7,980.5 488,960.8 488.1,975.7 488.3,963.7 488.6,973.9 488.8,961.6 489,978.5 489.2,958.9 489.4,977.6 489.6,959.6 489.8,973.6 490.1,961.3 490.3,978.6 490.5,960.1 490.7,977.6 490.9,961.3 491.1,978.6 491.3,962 491.4,968.5 491.6,960.9 491.8,974.6 492,961.8 492.1,980.2 492.3,962.1 492.5,979.3 492.7,962.7 492.8,972.8 493,963.1 493.2,980.6 493.4,959.5 493.5,975.8 493.8,959.6 493.9,977 494.1,961.9 494.4,979 494.6,961.2 494.8,975.7 495,960.2 495.1,969.5 495.3,962 495.5,973.5 495.7,959.3 495.8,974.8 496,962.5 496.2,976.6 496.5,960.9 496.6,976.5 496.8,963 497,977.5 497.2,963.4 497.4,976.9 497.6,962.4 497.8,977.6 497.9,963.3 498.2,978 498.4,959.1 498.6,969.8 498.8,963.2 499,981.5 499.2,960.4 499.4,976.2 499.6,960.2 499.8,970.3 499.9,960.6 500.1,980.3 500.3,960 500.6,981.3 500.7,963.1 500.9,977.7 501.1,963.7 501.2,973.1 501.4,959.4 501.6,972 501.8,961.6 502,977.1 502.1,959.5 502.3,978 502.5,959.4 502.7,981.3 502.9,963.4 503.1,979 503.3,959.9 503.5,972.3 503.7,959.9 503.9,978 504,958.9 504.2,969.1 504.5,960 504.7,973.3 504.9,963.7 505.1,976 505.3,959 505.4,971.4 505.6,960.2 505.8,978.3 506,958.7 506.2,974.4 506.4,963.6 506.6,976.2 506.7,962.3 506.9,972.2 507.1,962.7 507.3,974.8 507.5,958.9 507.6,977.8 507.9,963.2 508.1,977.3 508.3,961 508.5,979.6 508.8,960.7 509,971.4 509.2,963.3 509.4,976.9 509.5,963.6 509.7,979.2 509.9,961.5 510.1,977.4 510.3,962 510.4,980.9 510.6,958.6 510.8,980.7 511,958.7 511.2,980.4 511.4,961.6 511.6,974.4 511.7,959 511.9,973.3 512.2,960.4 512.3,978.5 512.5,963.8 512.7,970.3 512.9,963 513.8,969 517,970.2 519.8,969 522.7,969.9 524.4,969.1 526.4,969.9 528.9,969.9 531.8,970.1 533.3,969.5 535.9,969.1 538.7,968.9 541.8,969.6 544.2,970.3 546.2,969.5 547.7,969.3 549.4,969.7 552.7,970.4 554.1,969.7 555.9,969.2 557.3,969 560.3,969.1 562.6,970 565.2,969.6 567.4,969.9 569.6,969.3 572.6,968.9 574.3,970 576.6,969.5 578.6,970.2 580.2,970 582.5,968.8 585.6,969 588.8,968.8 591.4,969.1 592.9,969.3 595.5,970 598,968.8 600.3,969.4 602.3,969.9 605.3,970.5 607.1,969.3 609.3,970.4 612,969.9 614.5,969.8 616.9,969.5 619,970.3 620.8,968.9 623.2,970.3 626.3,970.1 627.4,969.6" fill="none" stroke="#37AD6B" stroke-width="2.1" stroke-linejoin="round"/>
<polygon points="118.4,563.5 113.5,554.5 123.3,554.5" fill="#37AD6B"/>
<polygon points="149.7,563.5 144.8,554.5 154.6,554.5" fill="#37AD6B"/>
<polyline points="118.4,538.6 118.4,606.8 118.4,557.4 166.3,557.4 166.8,563.7 167.3,623.5 168.5,743.2 169.7,862.8 170.9,922.7 172.4,952.6 174,961.6 176,964 181.1,970.4 184.2,978 186.9,981.3 187.3,981.4 187.9,981.5 188.7,982 189.6,982.3 190.4,981.3 190.9,981.6 191.4,981.6 192.4,981.3 193.3,980.9 193.9,980.4 194.8,982.3 195.8,981.7 196.4,980.5 197.2,980.9 197.7,980.9 198.2,982 198.9,982.5 199.8,982.1 200.4,981 201.2,980.6 202,980.7 202.9,980.6 203.9,982.1 204.8,981.8 205.8,981.1 206.8,982.2 207.5,981 208.5,981 209,981.2 209.6,981.4 210.5,982.3 211.6,981.1 212.2,982.1 213,980.7 213.8,982.3 214.3,982.3 215.2,982.1 216.1,981.9 217,981.7 217.5,980.7 218.3,981.1 219.3,980.5 219.8,981.8 220.3,981.4 221.4,980.8 221.9,982.1 222.8,981.1 223.5,981.5 224.1,980.7 224.8,980.7 225.7,982.3 226.4,982 227.4,981.3 227.9,982.1 228.6,981.5 229.4,981.7 230.1,982.5 230.9,981.8 231.4,981.5 232.5,982.4 233.1,981.1 233.7,981.9 234.5,982 235.3,981.4 236.4,980.4 236.9,981.3 237.8,980.7 238.8,981.2 239.7,981.7 240.3,980.8 241.3,980.5 242.9,984.3 243.8,987.2 244.9,982.5 245.2,981.4 246.4,980.8 247.3,981 248.2,981.1 249,981.8 249.8,981.4 251.1,981.2 252,981.5 252.7,981.4 253.4,981.9 254.6,981.2 255.5,981.1 256.3,981.6 256.9,981.5 257.7,980.8 258.7,980.5 259.5,980.5 260.5,981.8 261.2,981 262.5,981.4 263.7,981.3 264.9,981.8 265.8,980.6 266.6,981.5 267.2,981.7 267.9,980.8 268.7,981.3 269.4,981 270.6,980.9 271.3,980.8 272.6,981 273.2,980.7 274.4,981.4 275.1,981.6 276.1,980.6 277.1,980.5 277.8,981.4 279,980.9 279.8,980.9 280.6,981.8 281.5,981.8 282.5,981.4 283.5,981 284.2,981.2 284.8,980.5 285.8,980.4 286.4,981 287.5,981.4 288.2,981.7 288.8,980.8 289.5,980.7 290.3,981.1 291.3,981.1 292.4,981 293.2,980.8 294,980.8 295.1,980.7 295.9,980.7 297.2,981.2 298,981.1 299.2,981.7 299.8,981.2 300.9,980.7 301.7,980.4 302.4,980.8 303.1,981.9 303.7,981.8 304.7,981.1 305.4,980.5 306.2,981.7 306.9,980.8 308.2,981.7 308.8,980.7 309.5,980.4 310.4,981 311.3,980.7 312.2,981.4 313.4,981.7 314.5,981.8 315.6,981.3 316.8,981.8 317.8,981.3 319,980.5 320.1,981.6 321,981.3 321.4,946.9 321.7,990.7 322.4,979.5 325.1,975 329.8,975 337.6,976.1 353.3,974.1 369,972.5 384.6,970.5 400.3,969 431.6,969 462.9,968.9 494.2,968.9 499.7,968.7 502.1,973.5 505.2,964.6 508.3,979.5 510.8,991.5 513,967.5 514.6,955.6 515.9,948.5 516.9,973.5 518.5,985.5 520.9,978 521.6,974.7 521.8,987 522,974.1 522.2,986.5 522.5,974.8 522.7,987.1 522.9,973.9 523.1,983.5 523.3,974.7 523.5,984.9 523.7,974.8 523.9,984.1 524.1,974.2 524.4,986.2 524.6,974.5 524.8,982.4 525,973.8 525.2,985.3 525.4,974.9 525.6,986.7 525.9,974.8 526.1,986.1 526.2,974 526.4,984.7 526.6,974 526.9,981.1 527,974.7 527.2,982.5 527.4,974.3 527.6,983.8 527.7,975 528,984.2 528.2,974.8 528.4,984.9 528.6,974.7 528.8,984.7 529,974.2 529.2,983.5 529.4,973.5 529.5,984.1 529.8,973.6 530,983.6 530.2,974.6 530.3,984.6 530.5,974.3 530.7,982.9 530.9,973.8 531.1,982 531.3,973.8 531.5,980.3 531.7,974.3 531.9,982.2 532.2,974.3 532.4,982.1 532.5,973.2 532.7,981.1 532.9,974.6 533.1,982 533.3,974.7 533.4,979.8 533.7,973.3 533.8,980.4 534,973.8 534.2,981.8 534.4,975 534.6,979.4 534.8,973.9 535.1,981.8 535.3,973.6 535.5,979.7 535.7,974 535.9,979.8 536.1,973.8 536.3,981.4 536.5,974.5 536.7,980.3 536.9,973.9 537.1,981.1 537.3,973.1 537.5,979.8 537.7,973.3 537.8,981 538.1,974 538.3,978.4 538.5,973.2 538.7,979.9 538.9,973.2 539,980.6 539.2,974.8 539.4,978.2 539.6,974 539.7,979.4 540,973.5 540.2,979 540.4,973.3 540.6,978.2 540.8,973.8 540.9,979.1 541.1,974.1 541.2,979.5 541.4,974.9 541.6,977.7 541.8,974.3 541.9,977.3 542.1,973.5 542.3,979.1 542.5,973.1 542.7,978.4 542.8,975 544.2,974.5 545.5,975 547.2,974.3 548.6,975.1 550.3,974.1 551.5,974 553.3,975.1 555.1,975.2 556.1,974.4 557.5,974.8 559.1,974.2 561,975.7 562.7,974.9 564.2,974.3 565.6,974.9 567.7,975 569.2,974.9 571.2,974.6 573.1,975 574.1,974.5 575.7,974.4 577.6,975.6 578.8,975.6 580.8,975.6 581.8,974.4 583.5,975.7 585.3,974.5 586.8,975.7 588.6,975 590.3,974 592.3,974.2 593.4,975.2 595,975.8 597.2,975.3 598.4,975.2 599.7,974.2 601.3,974.9 602.8,975.7 604.1,974.2 606,974.2 607.3,975.4 608.3,974.8 609.7,974.9 611.3,974.7 612.7,974.3 613.9,974.1 615.5,975.7 616.8,974.8 618.3,974.8 619.6,975.3 621.6,975.2 623.4,974.3 625.1,975 627.2,975 627.4,974.9" fill="none" stroke="#B177DE" stroke-width="2.1" stroke-linejoin="round"/>
<polygon points="118.4,551.9 123.4,557.4 118.4,562.9 113.4,557.4" fill="#B177DE"/>
<polygon points="149.7,551.9 154.7,557.4 149.7,562.9 144.7,557.4" fill="#B177DE"/>
<polygon points="181,964.9 186,970.4 181,975.9 176,970.4" fill="#B177DE"/>
<polygon points="243.7,980 248.7,985.5 243.7,991 238.7,985.5" fill="#B177DE"/>
<polygon points="275,975.7 280,981.2 275,986.7 270,981.2" fill="#B177DE"/>
<polygon points="306.3,975.7 311.3,981.2 306.3,986.7 301.3,981.2" fill="#B177DE"/>
<polygon points="337.6,970.6 342.6,976.1 337.6,981.6 332.6,976.1" fill="#B177DE"/>
<polygon points="369,967 374,972.5 369,978 364,972.5" fill="#B177DE"/>
<polygon points="400.3,963.5 405.3,969 400.3,974.5 395.3,969" fill="#B177DE"/>
<polygon points="431.6,963.5 436.6,969 431.6,974.5 426.6,969" fill="#B177DE"/>
<polygon points="462.9,963.4 467.9,968.9 462.9,974.4 457.9,968.9" fill="#B177DE"/>
<polygon points="494.2,963.4 499.2,968.9 494.2,974.4 489.2,968.9" fill="#B177DE"/>
<polygon points="556.9,969.4 561.9,974.9 556.9,980.4 551.9,974.9" fill="#B177DE"/>
<polygon points="588.2,969.4 593.2,974.9 588.2,980.4 583.2,974.9" fill="#B177DE"/>
<polygon points="619.5,969.4 624.5,974.9 619.5,980.4 614.5,974.9" fill="#B177DE"/>
<polygon points="627.4,969.4 632.4,974.9 627.4,980.4 622.4,974.9" fill="#B177DE"/>
<polyline points="97.8,1474.3 138.3,1474.3 178.9,1474.3 219.4,1474.3 236,1474.3 239.7,1115.2 243.7,1133.1 250.2,1155.1 260,1177.1 268.1,1193.6 279.4,1218.4 283.5,1242.4 292.4,1271.3 300.5,1293.4 308.6,1319.5 316.7,1339.5 324.8,1353.2 332.1,1362.2 338.5,1371.1 339,1396.6 339.8,1404.1 340.2,1409.6 340.6,1397.2 341,1400.7 349.2,1406.2 357.3,1410.3 365.4,1413.8 381.6,1418.6 397.8,1425.5 422.1,1433 442.4,1438.5 462.7,1442.7 482.9,1445.4 503.2,1448.2 523.5,1450.6 543.8,1452.6 564,1454 584.3,1455 587.5,1454.3 590,1450.2 592.4,1451.6 608.6,1453.3 624.8,1454.3" fill="none" stroke="#00FF00" stroke-width="2.1" stroke-linejoin="round"/>
<rect x="93.6" y="1470.1" width="8.4" height="8.4" fill="#00FF00"/>
<rect x="134.1" y="1470.1" width="8.4" height="8.4" fill="#00FF00"/>
<rect x="174.7" y="1470.1" width="8.4" height="8.4" fill="#00FF00"/>
<rect x="215.2" y="1470.1" width="8.4" height="8.4" fill="#00FF00"/>
<rect x="255.8" y="1172.9" width="8.4" height="8.4" fill="#00FF00"/>
<rect x="296.3" y="1289.2" width="8.4" height="8.4" fill="#00FF00"/>
<rect x="336.8" y="1396.5" width="8.4" height="8.4" fill="#00FF00"/>
<rect x="377.4" y="1414.4" width="8.4" height="8.4" fill="#00FF00"/>
<rect x="417.9" y="1428.8" width="8.4" height="8.4" fill="#00FF00"/>
<rect x="458.5" y="1438.5" width="8.4" height="8.4" fill="#00FF00"/>
<rect x="499" y="1444" width="8.4" height="8.4" fill="#00FF00"/>
<rect x="539.6" y="1448.4" width="8.4" height="8.4" fill="#00FF00"/>
<rect x="580.1" y="1450.8" width="8.4" height="8.4" fill="#00FF00"/>
<rect x="620.6" y="1450.1" width="8.4" height="8.4" fill="#00FF00"/>
<polyline points="97.8,1474.3 138.3,1474.3 161.9,1474.3 166.1,1075.9 177.3,1130.3 178.9,1135.8 191.9,1170.9 199.8,1186.7 212.9,1254.1 214.6,1261 216.7,1442.7 217,1429.6 217.4,1446.8 218.6,1438.5 221.9,1436.5 240,1440.6 255.8,1446.8 260.1,1447.7 282,1453 284.3,1454.3 284.8,1459.9 285.1,1430.6 300.5,1434.7 341,1444.7 381.6,1452.3 422.1,1457.4 462.7,1459.2 503.2,1461.2 543.8,1462.6 584.3,1463.6 624.8,1464.7" fill="none" stroke="#F14040" stroke-width="2.1" stroke-linejoin="round"/>
<circle cx="97.8" cy="1474.3" r="4.4" fill="#F14040"/>
<circle cx="138.3" cy="1474.3" r="4.4" fill="#F14040"/>
<circle cx="178.9" cy="1135.8" r="4.4" fill="#F14040"/>
<circle cx="219.4" cy="1435.8" r="4.4" fill="#F14040"/>
<circle cx="300.5" cy="1434.7" r="4.4" fill="#F14040"/>
<circle cx="341" cy="1444.7" r="4.4" fill="#F14040"/>
<circle cx="381.6" cy="1452.3" r="4.4" fill="#F14040"/>
<circle cx="422.1" cy="1457.4" r="4.4" fill="#F14040"/>
<circle cx="462.7" cy="1459.2" r="4.4" fill="#F14040"/>
<circle cx="503.2" cy="1461.2" r="4.4" fill="#F14040"/>
<circle cx="543.8" cy="1462.6" r="4.4" fill="#F14040"/>
<circle cx="584.3" cy="1463.6" r="4.4" fill="#F14040"/>
<circle cx="624.8" cy="1464.7" r="4.4" fill="#F14040"/>
<polyline points="97.8,1474.3 138.3,1474.3 154.6,1474.3 156,1088.3 164.3,1121.4 170.8,1144.7 174.8,1156.4 178.9,1166.8 183.7,1177.1 189.4,1194.3 193.9,1211.5 195.3,1221.8 195.7,1416.5 197.5,1417.2 203.2,1419.3 212.9,1423.4 219.4,1427.5 227.5,1430.3 243.7,1435.8 254.9,1439 256.6,1445.1 257.4,1435.8 257.9,1447.5 259.2,1442.7 262.8,1443.3 272,1445.1 272.9,1444.7 273.3,1417.9 277.7,1419.6 285.5,1424.1 296,1426.8 300.5,1426.5 341,1441.3 381.6,1450.2 422.1,1456.4 462.7,1459.5 503.2,1461.6 543.8,1462.9 584.3,1463.8 624.8,1464.3" fill="none" stroke="#1A6FDF" stroke-width="2.1" stroke-linejoin="round"/>
<polygon points="97.8,1468.7 92.9,1477.8 102.7,1477.8" fill="#1A6FDF"/>
<polygon points="138.3,1468.7 133.4,1477.8 143.2,1477.8" fill="#1A6FDF"/>
<polygon points="178.9,1161.2 174,1170.3 183.8,1170.3" fill="#1A6FDF"/>
<polygon points="219.4,1421.9 214.5,1431 224.3,1431" fill="#1A6FDF"/>
<polygon points="300.5,1420.9 295.6,1430 305.4,1430" fill="#1A6FDF"/>
<polygon points="341,1435.7 336.1,1444.8 345.9,1444.8" fill="#1A6FDF"/>
<polygon points="381.6,1444.6 376.7,1453.7 386.5,1453.7" fill="#1A6FDF"/>
<polygon points="422.1,1450.8 417.2,1459.9 427,1459.9" fill="#1A6FDF"/>
<polygon points="462.7,1453.9 457.8,1463 467.6,1463" fill="#1A6FDF"/>
<polygon points="503.2,1456 498.3,1465.1 508.1,1465.1" fill="#1A6FDF"/>
<polygon points="543.8,1457.3 538.9,1466.4 548.7,1466.4" fill="#1A6FDF"/>
<polygon points="584.3,1458.2 579.4,1467.3 589.2,1467.3" fill="#1A6FDF"/>
<polygon points="624.8,1458.7 619.9,1467.8 629.7,1467.8" fill="#1A6FDF"/>
<polyline points="97.8,1474.3 138.3,1474.3 153.7,1474.3 156.6,1120 165.5,1150.3 171.2,1161.9 178.9,1190.8 183.7,1203.2 193.1,1228 193.5,1230.1 196.2,1432.3 196.4,1402.7 200,1403.4 209.7,1410.3 219.4,1417.2 240,1431 256.7,1437.8 257.9,1445.4 258.7,1437.1 261,1440.6 280.2,1444.4 300,1447.7 341,1455.4 381.6,1461.6 422.1,1465.2 462.7,1467.1 503.2,1467.8 543.8,1468.1 584.3,1468.4 624.8,1468.6" fill="none" stroke="#37AD6B" stroke-width="2.1" stroke-linejoin="round"/>
<polygon points="97.8,1480.1 92.9,1471.1 102.7,1471.1" fill="#37AD6B"/>
<polygon points="138.3,1480.1 133.4,1471.1 143.2,1471.1" fill="#37AD6B"/>
<polygon points="178.9,1196.6 174,1187.6 183.8,1187.6" fill="#37AD6B"/>
<polygon points="219.4,1423 214.5,1414 224.3,1414" fill="#37AD6B"/>
<polygon points="300.5,1453.6 295.6,1444.6 305.4,1444.6" fill="#37AD6B"/>
<polygon points="341,1461.2 336.1,1452.2 345.9,1452.2" fill="#37AD6B"/>
<polygon points="381.6,1467.4 376.7,1458.4 386.5,1458.4" fill="#37AD6B"/>
<polygon points="422.1,1471 417.2,1462 427,1462" fill="#37AD6B"/>
<polygon points="462.7,1472.9 457.8,1463.9 467.6,1463.9" fill="#37AD6B"/>
<polygon points="503.2,1473.6 498.3,1464.6 508.1,1464.6" fill="#37AD6B"/>
<polygon points="543.8,1473.9 538.9,1464.9 548.7,1464.9" fill="#37AD6B"/>
<polygon points="584.3,1474.2 579.4,1465.2 589.2,1465.2" fill="#37AD6B"/>
<polygon points="624.8,1474.4 619.9,1465.4 629.7,1465.4" fill="#37AD6B"/>
<polyline points="97.8,1474.3 138.3,1474.3 152.5,1474.3 155.5,1161.9 163.1,1184 165.1,1188.8 171.2,1208.7 177.7,1232.1 178.9,1239.7 181.7,1250 183.9,1257.6 184.4,1397.2 184.6,1397.2 186.3,1398.6 186.7,1333.3 195.1,1353.2 207.3,1380 217,1395.9 218.6,1398.6 219.1,1450.9 219.8,1449.5 221,1439.9 224.3,1443.3 240,1446.1 255.8,1449.5 260.1,1452.3 270.7,1454.8 283.8,1454.8 300,1455.6 341,1465 381.6,1468.2 422.1,1469.9 462.7,1470.7 503.2,1471.1 543.8,1471.4 584.3,1471.7 624.8,1471.8" fill="none" stroke="#B177DE" stroke-width="2.1" stroke-linejoin="round"/>
<polygon points="97.8,1468.8 102.8,1474.3 97.8,1479.8 92.8,1474.3" fill="#B177DE"/>
<polygon points="138.3,1468.8 143.3,1474.3 138.3,1479.8 133.3,1474.3" fill="#B177DE"/>
<polygon points="178.9,1234.2 183.9,1239.7 178.9,1245.2 173.9,1239.7" fill="#B177DE"/>
<polygon points="219.4,1422 224.4,1427.5 219.4,1433 214.4,1427.5" fill="#B177DE"/>
<polygon points="260,1446.7 265,1452.2 260,1457.7 255,1452.2" fill="#B177DE"/>
<polygon points="300.5,1450.2 305.5,1455.7 300.5,1461.2 295.5,1455.7" fill="#B177DE"/>
<polygon points="341,1459.5 346,1465 341,1470.5 336,1465" fill="#B177DE"/>
<polygon points="381.6,1462.7 386.6,1468.2 381.6,1473.7 376.6,1468.2" fill="#B177DE"/>
<polygon points="422.1,1464.4 427.1,1469.9 422.1,1475.4 417.1,1469.9" fill="#B177DE"/>
<polygon points="462.7,1465.2 467.7,1470.7 462.7,1476.2 457.7,1470.7" fill="#B177DE"/>
<polygon points="503.2,1465.6 508.2,1471.1 503.2,1476.6 498.2,1471.1" fill="#B177DE"/>
<polygon points="543.8,1465.9 548.8,1471.4 543.8,1476.9 538.8,1471.4" fill="#B177DE"/>
<polygon points="584.3,1466.2 589.3,1471.7 584.3,1477.2 579.3,1471.7" fill="#B177DE"/>
<polygon points="624.8,1466.3 629.8,1471.8 624.8,1477.3 619.8,1471.8" fill="#B177DE"/>
<rect x="524.9" y="24.2" width="129.5" height="134.2" fill="#fff" stroke="#7a7a7a" stroke-width="1.3"/>
<path d="M526.9 37.6H571.2" stroke="#00FF00" stroke-width="2"/>
<rect x="545" y="33.4" width="8.4" height="8.4" fill="#00FF00"/>
<text x="582.4" y="45.4" font-size="20.9" text-anchor="start">10 mm</text>
<path d="M526.9 64H571.2" stroke="#F14040" stroke-width="2"/>
<circle cx="549.2" cy="64" r="4.4" fill="#F14040"/>
<text x="582.4" y="71.8" font-size="20.9" text-anchor="start">30 mm</text>
<path d="M526.9 90.3H571.2" stroke="#1A6FDF" stroke-width="2"/>
<polygon points="549.2,84.7 544.3,93.8 554.1,93.8" fill="#1A6FDF"/>
<text x="582.4" y="98.1" font-size="20.9" text-anchor="start">50 mm</text>
<path d="M526.9 116.6H571.2" stroke="#37AD6B" stroke-width="2"/>
<polygon points="549.2,122.4 544.3,113.4 554.1,113.4" fill="#37AD6B"/>
<text x="582.4" y="124.4" font-size="20.9" text-anchor="start">70 mm</text>
<path d="M526.9 143H571.2" stroke="#B177DE" stroke-width="2"/>
<polygon points="549.2,137.5 554.2,143 549.2,148.5 544.2,143" fill="#B177DE"/>
<text x="582.4" y="150.8" font-size="20.9" text-anchor="start">100 mm</text>
<rect x="521.8" y="553.6" width="130.1" height="135.2" fill="#fff" stroke="#7a7a7a" stroke-width="1.3"/>
<path d="M524.3 567.8H568.3" stroke="#00FF00" stroke-width="2"/>
<rect x="542.2" y="563.6" width="8.4" height="8.4" fill="#00FF00"/>
<text x="579.9" y="575.6" font-size="20.9" text-anchor="start">10 mm</text>
<path d="M524.3 594.4H568.3" stroke="#F14040" stroke-width="2"/>
<circle cx="546.4" cy="594.4" r="4.4" fill="#F14040"/>
<text x="579.9" y="602.2" font-size="20.9" text-anchor="start">30 mm</text>
<path d="M524.3 620.8H568.3" stroke="#1A6FDF" stroke-width="2"/>
<polygon points="546.4,615.2 541.5,624.3 551.3,624.3" fill="#1A6FDF"/>
<text x="579.9" y="628.6" font-size="20.9" text-anchor="start">50 mm</text>
<path d="M524.3 647.2H568.3" stroke="#37AD6B" stroke-width="2"/>
<polygon points="546.4,653 541.5,644 551.3,644" fill="#37AD6B"/>
<text x="579.9" y="655" font-size="20.9" text-anchor="start">70 mm</text>
<path d="M524.3 673.8H568.3" stroke="#B177DE" stroke-width="2"/>
<polygon points="546.4,668.3 551.4,673.8 546.4,679.3 541.4,673.8" fill="#B177DE"/>
<text x="579.9" y="681.6" font-size="20.9" text-anchor="start">100 mm</text>
<rect x="516.6" y="1078.6" width="129.8" height="135.3" fill="#fff" stroke="#7a7a7a" stroke-width="1.3"/>
<path d="M519.1 1092.8H563.3" stroke="#00FF00" stroke-width="2"/>
<rect x="536.8" y="1088.6" width="8.4" height="8.4" fill="#00FF00"/>
<text x="574.5" y="1100.6" font-size="20.9" text-anchor="start">10 mm</text>
<path d="M519.1 1119.6H563.3" stroke="#F14040" stroke-width="2"/>
<circle cx="541" cy="1119.6" r="4.4" fill="#F14040"/>
<text x="574.5" y="1127.4" font-size="20.9" text-anchor="start">30 mm</text>
<path d="M519.1 1146.1H563.3" stroke="#1A6FDF" stroke-width="2"/>
<polygon points="541,1140.5 536.1,1149.6 545.9,1149.6" fill="#1A6FDF"/>
<text x="574.5" y="1153.9" font-size="20.9" text-anchor="start">50 mm</text>
<path d="M519.1 1172.9H563.3" stroke="#37AD6B" stroke-width="2"/>
<polygon points="541,1178.7 536.1,1169.7 545.9,1169.7" fill="#37AD6B"/>
<text x="574.5" y="1180.7" font-size="20.9" text-anchor="start">70 mm</text>
<path d="M519.1 1199.1H563.3" stroke="#B177DE" stroke-width="2"/>
<polygon points="541,1193.6 546,1199.1 541,1204.6 536,1199.1" fill="#B177DE"/>
<text x="574.5" y="1206.9" font-size="20.9" text-anchor="start">100 mm</text>
<text x="161" y="102.8" font-size="21.5" text-anchor="start">RRA actuation</text>
<text x="110" y="201.9" font-size="21.4" text-anchor="start">MHSI actuation</text>
<path d="M247.9 108.8L318.4 336.4" stroke="#3a3a3a" stroke-width="1.05"/>
<polygon points="320.8,344 315,335.3 320.7,333.6" fill="#111"/>
<path d="M247.9 108.8L430.5 421.2" stroke="#3a3a3a" stroke-width="1.05"/>
<polygon points="434.5,428.1 426.9,421 432,418" fill="#111"/>
<path d="M197.5 211.7L208 406.8" stroke="#3a3a3a" stroke-width="1.05"/>
<polygon points="208.4,414.8 204.9,405 210.9,404.7" fill="#111"/>
<path d="M197.5 211.7L291.4 423.2" stroke="#3a3a3a" stroke-width="1.05"/>
<polygon points="294.6,430.5 287.8,422.6 293.3,420.1" fill="#111"/>
<path d="M197.5 211.7L447.7 430.7" stroke="#3a3a3a" stroke-width="1.05"/>
<polygon points="453.7,436 444.2,431.7 448.2,427.2" fill="#111"/>
<text x="283.6" y="635.6" font-size="21.4" text-anchor="start">Scram</text>
<path d="M279.9 630.1L172.3 565.3" stroke="#3a3a3a" stroke-width="1.05"/>
<polygon points="165.4,561.2 175.5,563.8 172.4,568.9" fill="#111"/>
<path d="M279.9 630.1L249.2 581.7" stroke="#3a3a3a" stroke-width="1.05"/>
<polygon points="244.9,574.9 252.8,581.7 247.7,585" fill="#111"/>
<text x="376.6" y="816.6" font-size="21.4" text-anchor="start">ASG actuation</text>
<path d="M446.8 825.4L191.3 957.7" stroke="#3a3a3a" stroke-width="1.05"/>
<polygon points="184.2,961.4 191.7,954.1 194.5,959.5" fill="#111"/>
<path d="M446.8 825.4L406.7 944.1" stroke="#3a3a3a" stroke-width="1.05"/>
<polygon points="404.1,951.7 404.5,941.3 410.1,943.2" fill="#111"/>
<text x="86.8" y="1349.9" font-size="20.4" text-anchor="start">GCT</text>
<text x="128.3" y="1342.2" font-size="12.5" text-anchor="start">1</text>
<path d="M114.7 1355.2L148 1461.6" stroke="#3a3a3a" stroke-width="1.05"/>
<polygon points="150.4,1469.2 144.5,1460.6 150.3,1458.8" fill="#111"/>
<path d="M117.3 1354.6L228.3 1467.3" stroke="#3a3a3a" stroke-width="1.05"/>
<polygon points="233.9,1473 224.7,1468 229,1463.8" fill="#111"/>
<text x="465" y="1268.6" font-size="20.4" text-anchor="start">GCT</text>
<text x="507.2" y="1259.8" font-size="12.5" text-anchor="start">2</text>
<path d="M484.8 1275L193.1 1378.2" stroke="#3a3a3a" stroke-width="1.05"/>
<polygon points="185.6,1380.9 194,1374.7 196,1380.4" fill="#111"/>
<path d="M491.8 1274.5L348.6 1360.8" stroke="#3a3a3a" stroke-width="1.05"/>
<polygon points="341.7,1364.9 348.7,1357.2 351.8,1362.3" fill="#111"/>
<text x="520.2" y="1358.9" font-size="20.4" text-anchor="start">GCT</text>
<text x="562" y="1350.8" font-size="12.5" text-anchor="start">3</text>
<path d="M538.7 1365.2L231.3 1424" stroke="#3a3a3a" stroke-width="1.05"/>
<polygon points="223.4,1425.5 232.7,1420.7 233.8,1426.6" fill="#111"/>
<path d="M542.2 1367.7L290.6 1450.5" stroke="#3a3a3a" stroke-width="1.05"/>
<polygon points="283,1453 291.6,1447 293.4,1452.7" fill="#111"/>
</svg>
</body></html>
